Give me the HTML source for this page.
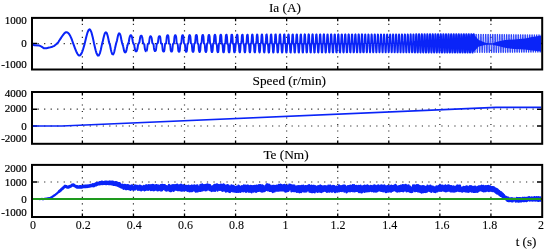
<!DOCTYPE html>
<html><head><meta charset="utf-8"><style>
html,body{margin:0;padding:0;background:#fff;}
body{width:544px;height:250px;overflow:hidden;}
svg{display:block;}
</style></head><body>
<svg width="544" height="250" viewBox="0 0 544 250">
<rect width="544" height="250" fill="#fff"/>
<clipPath id="c0"><rect x="33.0" y="18.9" width="508.2" height="49.6"/></clipPath>
<clipPath id="c1"><rect x="33.0" y="93.0" width="508.2" height="49.8"/></clipPath>
<clipPath id="c2"><rect x="33.0" y="165.9" width="508.2" height="50.1"/></clipPath>
<path d="M81.77 23.8h1.2v1.2h-1.2zM81.77 30.3h1.2v1.2h-1.2zM81.77 36.8h1.2v1.2h-1.2zM81.77 43.3h1.2v1.2h-1.2zM81.77 49.8h1.2v1.2h-1.2zM81.77 56.3h1.2v1.2h-1.2zM81.77 62.8h1.2v1.2h-1.2zM132.84 23.8h1.2v1.2h-1.2zM132.84 30.3h1.2v1.2h-1.2zM132.84 36.8h1.2v1.2h-1.2zM132.84 43.3h1.2v1.2h-1.2zM132.84 49.8h1.2v1.2h-1.2zM132.84 56.3h1.2v1.2h-1.2zM132.84 62.8h1.2v1.2h-1.2zM183.91 23.8h1.2v1.2h-1.2zM183.91 30.3h1.2v1.2h-1.2zM183.91 36.8h1.2v1.2h-1.2zM183.91 43.3h1.2v1.2h-1.2zM183.91 49.8h1.2v1.2h-1.2zM183.91 56.3h1.2v1.2h-1.2zM183.91 62.8h1.2v1.2h-1.2zM234.98 23.8h1.2v1.2h-1.2zM234.98 30.3h1.2v1.2h-1.2zM234.98 36.8h1.2v1.2h-1.2zM234.98 43.3h1.2v1.2h-1.2zM234.98 49.8h1.2v1.2h-1.2zM234.98 56.3h1.2v1.2h-1.2zM234.98 62.8h1.2v1.2h-1.2zM286.05 23.8h1.2v1.2h-1.2zM286.05 30.3h1.2v1.2h-1.2zM286.05 36.8h1.2v1.2h-1.2zM286.05 43.3h1.2v1.2h-1.2zM286.05 49.8h1.2v1.2h-1.2zM286.05 56.3h1.2v1.2h-1.2zM286.05 62.8h1.2v1.2h-1.2zM337.12 23.8h1.2v1.2h-1.2zM337.12 30.3h1.2v1.2h-1.2zM337.12 36.8h1.2v1.2h-1.2zM337.12 43.3h1.2v1.2h-1.2zM337.12 49.8h1.2v1.2h-1.2zM337.12 56.3h1.2v1.2h-1.2zM337.12 62.8h1.2v1.2h-1.2zM388.19 23.8h1.2v1.2h-1.2zM388.19 30.3h1.2v1.2h-1.2zM388.19 36.8h1.2v1.2h-1.2zM388.19 43.3h1.2v1.2h-1.2zM388.19 49.8h1.2v1.2h-1.2zM388.19 56.3h1.2v1.2h-1.2zM388.19 62.8h1.2v1.2h-1.2zM439.26 23.8h1.2v1.2h-1.2zM439.26 30.3h1.2v1.2h-1.2zM439.26 36.8h1.2v1.2h-1.2zM439.26 43.3h1.2v1.2h-1.2zM439.26 49.8h1.2v1.2h-1.2zM439.26 56.3h1.2v1.2h-1.2zM439.26 62.8h1.2v1.2h-1.2zM490.33 23.8h1.2v1.2h-1.2zM490.33 30.3h1.2v1.2h-1.2zM490.33 36.8h1.2v1.2h-1.2zM490.33 43.3h1.2v1.2h-1.2zM490.33 49.8h1.2v1.2h-1.2zM490.33 56.3h1.2v1.2h-1.2zM490.33 62.8h1.2v1.2h-1.2zM37.6 43h1.2v1.2h-1.2zM44.11 43h1.2v1.2h-1.2zM50.62 43h1.2v1.2h-1.2zM57.14 43h1.2v1.2h-1.2zM63.65 43h1.2v1.2h-1.2zM70.16 43h1.2v1.2h-1.2zM76.67 43h1.2v1.2h-1.2zM83.18 43h1.2v1.2h-1.2zM89.7 43h1.2v1.2h-1.2zM96.21 43h1.2v1.2h-1.2zM102.72 43h1.2v1.2h-1.2zM109.23 43h1.2v1.2h-1.2zM115.74 43h1.2v1.2h-1.2zM122.26 43h1.2v1.2h-1.2zM128.77 43h1.2v1.2h-1.2zM135.28 43h1.2v1.2h-1.2zM141.79 43h1.2v1.2h-1.2zM148.3 43h1.2v1.2h-1.2zM154.82 43h1.2v1.2h-1.2zM161.33 43h1.2v1.2h-1.2zM167.84 43h1.2v1.2h-1.2zM174.35 43h1.2v1.2h-1.2zM180.86 43h1.2v1.2h-1.2zM187.38 43h1.2v1.2h-1.2zM193.89 43h1.2v1.2h-1.2zM200.4 43h1.2v1.2h-1.2zM206.91 43h1.2v1.2h-1.2zM213.42 43h1.2v1.2h-1.2zM219.94 43h1.2v1.2h-1.2zM226.45 43h1.2v1.2h-1.2zM232.96 43h1.2v1.2h-1.2zM239.47 43h1.2v1.2h-1.2zM245.98 43h1.2v1.2h-1.2zM252.5 43h1.2v1.2h-1.2zM259.01 43h1.2v1.2h-1.2zM265.52 43h1.2v1.2h-1.2zM272.03 43h1.2v1.2h-1.2zM278.54 43h1.2v1.2h-1.2zM285.06 43h1.2v1.2h-1.2zM291.57 43h1.2v1.2h-1.2zM298.08 43h1.2v1.2h-1.2zM304.59 43h1.2v1.2h-1.2zM311.1 43h1.2v1.2h-1.2zM317.62 43h1.2v1.2h-1.2zM324.13 43h1.2v1.2h-1.2zM330.64 43h1.2v1.2h-1.2zM337.15 43h1.2v1.2h-1.2zM343.66 43h1.2v1.2h-1.2zM350.18 43h1.2v1.2h-1.2zM356.69 43h1.2v1.2h-1.2zM363.2 43h1.2v1.2h-1.2zM369.71 43h1.2v1.2h-1.2zM376.22 43h1.2v1.2h-1.2zM382.74 43h1.2v1.2h-1.2zM389.25 43h1.2v1.2h-1.2zM395.76 43h1.2v1.2h-1.2zM402.27 43h1.2v1.2h-1.2zM408.78 43h1.2v1.2h-1.2zM415.3 43h1.2v1.2h-1.2zM421.81 43h1.2v1.2h-1.2zM428.32 43h1.2v1.2h-1.2zM434.83 43h1.2v1.2h-1.2zM441.34 43h1.2v1.2h-1.2zM447.86 43h1.2v1.2h-1.2zM454.37 43h1.2v1.2h-1.2zM460.88 43h1.2v1.2h-1.2zM467.39 43h1.2v1.2h-1.2zM473.9 43h1.2v1.2h-1.2zM480.42 43h1.2v1.2h-1.2zM486.93 43h1.2v1.2h-1.2zM493.44 43h1.2v1.2h-1.2zM499.95 43h1.2v1.2h-1.2zM506.46 43h1.2v1.2h-1.2zM512.98 43h1.2v1.2h-1.2zM519.49 43h1.2v1.2h-1.2zM526 43h1.2v1.2h-1.2zM532.51 43h1.2v1.2h-1.2z" fill="#2a2a2a"/>
<path d="M81.77 97.9h1.2v1.2h-1.2zM81.77 104.4h1.2v1.2h-1.2zM81.77 110.9h1.2v1.2h-1.2zM81.77 117.4h1.2v1.2h-1.2zM81.77 123.9h1.2v1.2h-1.2zM81.77 130.4h1.2v1.2h-1.2zM81.77 136.9h1.2v1.2h-1.2zM132.84 97.9h1.2v1.2h-1.2zM132.84 104.4h1.2v1.2h-1.2zM132.84 110.9h1.2v1.2h-1.2zM132.84 117.4h1.2v1.2h-1.2zM132.84 123.9h1.2v1.2h-1.2zM132.84 130.4h1.2v1.2h-1.2zM132.84 136.9h1.2v1.2h-1.2zM183.91 97.9h1.2v1.2h-1.2zM183.91 104.4h1.2v1.2h-1.2zM183.91 110.9h1.2v1.2h-1.2zM183.91 117.4h1.2v1.2h-1.2zM183.91 123.9h1.2v1.2h-1.2zM183.91 130.4h1.2v1.2h-1.2zM183.91 136.9h1.2v1.2h-1.2zM234.98 97.9h1.2v1.2h-1.2zM234.98 104.4h1.2v1.2h-1.2zM234.98 110.9h1.2v1.2h-1.2zM234.98 117.4h1.2v1.2h-1.2zM234.98 123.9h1.2v1.2h-1.2zM234.98 130.4h1.2v1.2h-1.2zM234.98 136.9h1.2v1.2h-1.2zM286.05 97.9h1.2v1.2h-1.2zM286.05 104.4h1.2v1.2h-1.2zM286.05 110.9h1.2v1.2h-1.2zM286.05 117.4h1.2v1.2h-1.2zM286.05 123.9h1.2v1.2h-1.2zM286.05 130.4h1.2v1.2h-1.2zM286.05 136.9h1.2v1.2h-1.2zM337.12 97.9h1.2v1.2h-1.2zM337.12 104.4h1.2v1.2h-1.2zM337.12 110.9h1.2v1.2h-1.2zM337.12 117.4h1.2v1.2h-1.2zM337.12 123.9h1.2v1.2h-1.2zM337.12 130.4h1.2v1.2h-1.2zM337.12 136.9h1.2v1.2h-1.2zM388.19 97.9h1.2v1.2h-1.2zM388.19 104.4h1.2v1.2h-1.2zM388.19 110.9h1.2v1.2h-1.2zM388.19 117.4h1.2v1.2h-1.2zM388.19 123.9h1.2v1.2h-1.2zM388.19 130.4h1.2v1.2h-1.2zM388.19 136.9h1.2v1.2h-1.2zM439.26 97.9h1.2v1.2h-1.2zM439.26 104.4h1.2v1.2h-1.2zM439.26 110.9h1.2v1.2h-1.2zM439.26 117.4h1.2v1.2h-1.2zM439.26 123.9h1.2v1.2h-1.2zM439.26 130.4h1.2v1.2h-1.2zM439.26 136.9h1.2v1.2h-1.2zM490.33 97.9h1.2v1.2h-1.2zM490.33 104.4h1.2v1.2h-1.2zM490.33 110.9h1.2v1.2h-1.2zM490.33 117.4h1.2v1.2h-1.2zM490.33 123.9h1.2v1.2h-1.2zM490.33 130.4h1.2v1.2h-1.2zM490.33 136.9h1.2v1.2h-1.2zM37.6 125.4h1.2v1.2h-1.2zM44.11 125.4h1.2v1.2h-1.2zM50.62 125.4h1.2v1.2h-1.2zM57.14 125.4h1.2v1.2h-1.2zM63.65 125.4h1.2v1.2h-1.2zM70.16 125.4h1.2v1.2h-1.2zM76.67 125.4h1.2v1.2h-1.2zM83.18 125.4h1.2v1.2h-1.2zM89.7 125.4h1.2v1.2h-1.2zM96.21 125.4h1.2v1.2h-1.2zM102.72 125.4h1.2v1.2h-1.2zM109.23 125.4h1.2v1.2h-1.2zM115.74 125.4h1.2v1.2h-1.2zM122.26 125.4h1.2v1.2h-1.2zM128.77 125.4h1.2v1.2h-1.2zM135.28 125.4h1.2v1.2h-1.2zM141.79 125.4h1.2v1.2h-1.2zM148.3 125.4h1.2v1.2h-1.2zM154.82 125.4h1.2v1.2h-1.2zM161.33 125.4h1.2v1.2h-1.2zM167.84 125.4h1.2v1.2h-1.2zM174.35 125.4h1.2v1.2h-1.2zM180.86 125.4h1.2v1.2h-1.2zM187.38 125.4h1.2v1.2h-1.2zM193.89 125.4h1.2v1.2h-1.2zM200.4 125.4h1.2v1.2h-1.2zM206.91 125.4h1.2v1.2h-1.2zM213.42 125.4h1.2v1.2h-1.2zM219.94 125.4h1.2v1.2h-1.2zM226.45 125.4h1.2v1.2h-1.2zM232.96 125.4h1.2v1.2h-1.2zM239.47 125.4h1.2v1.2h-1.2zM245.98 125.4h1.2v1.2h-1.2zM252.5 125.4h1.2v1.2h-1.2zM259.01 125.4h1.2v1.2h-1.2zM265.52 125.4h1.2v1.2h-1.2zM272.03 125.4h1.2v1.2h-1.2zM278.54 125.4h1.2v1.2h-1.2zM285.06 125.4h1.2v1.2h-1.2zM291.57 125.4h1.2v1.2h-1.2zM298.08 125.4h1.2v1.2h-1.2zM304.59 125.4h1.2v1.2h-1.2zM311.1 125.4h1.2v1.2h-1.2zM317.62 125.4h1.2v1.2h-1.2zM324.13 125.4h1.2v1.2h-1.2zM330.64 125.4h1.2v1.2h-1.2zM337.15 125.4h1.2v1.2h-1.2zM343.66 125.4h1.2v1.2h-1.2zM350.18 125.4h1.2v1.2h-1.2zM356.69 125.4h1.2v1.2h-1.2zM363.2 125.4h1.2v1.2h-1.2zM369.71 125.4h1.2v1.2h-1.2zM376.22 125.4h1.2v1.2h-1.2zM382.74 125.4h1.2v1.2h-1.2zM389.25 125.4h1.2v1.2h-1.2zM395.76 125.4h1.2v1.2h-1.2zM402.27 125.4h1.2v1.2h-1.2zM408.78 125.4h1.2v1.2h-1.2zM415.3 125.4h1.2v1.2h-1.2zM421.81 125.4h1.2v1.2h-1.2zM428.32 125.4h1.2v1.2h-1.2zM434.83 125.4h1.2v1.2h-1.2zM441.34 125.4h1.2v1.2h-1.2zM447.86 125.4h1.2v1.2h-1.2zM454.37 125.4h1.2v1.2h-1.2zM460.88 125.4h1.2v1.2h-1.2zM467.39 125.4h1.2v1.2h-1.2zM473.9 125.4h1.2v1.2h-1.2zM480.42 125.4h1.2v1.2h-1.2zM486.93 125.4h1.2v1.2h-1.2zM493.44 125.4h1.2v1.2h-1.2zM499.95 125.4h1.2v1.2h-1.2zM506.46 125.4h1.2v1.2h-1.2zM512.98 125.4h1.2v1.2h-1.2zM519.49 125.4h1.2v1.2h-1.2zM526 125.4h1.2v1.2h-1.2zM532.51 125.4h1.2v1.2h-1.2zM37.6 108.6h1.2v1.2h-1.2zM44.11 108.6h1.2v1.2h-1.2zM50.62 108.6h1.2v1.2h-1.2zM57.14 108.6h1.2v1.2h-1.2zM63.65 108.6h1.2v1.2h-1.2zM70.16 108.6h1.2v1.2h-1.2zM76.67 108.6h1.2v1.2h-1.2zM83.18 108.6h1.2v1.2h-1.2zM89.7 108.6h1.2v1.2h-1.2zM96.21 108.6h1.2v1.2h-1.2zM102.72 108.6h1.2v1.2h-1.2zM109.23 108.6h1.2v1.2h-1.2zM115.74 108.6h1.2v1.2h-1.2zM122.26 108.6h1.2v1.2h-1.2zM128.77 108.6h1.2v1.2h-1.2zM135.28 108.6h1.2v1.2h-1.2zM141.79 108.6h1.2v1.2h-1.2zM148.3 108.6h1.2v1.2h-1.2zM154.82 108.6h1.2v1.2h-1.2zM161.33 108.6h1.2v1.2h-1.2zM167.84 108.6h1.2v1.2h-1.2zM174.35 108.6h1.2v1.2h-1.2zM180.86 108.6h1.2v1.2h-1.2zM187.38 108.6h1.2v1.2h-1.2zM193.89 108.6h1.2v1.2h-1.2zM200.4 108.6h1.2v1.2h-1.2zM206.91 108.6h1.2v1.2h-1.2zM213.42 108.6h1.2v1.2h-1.2zM219.94 108.6h1.2v1.2h-1.2zM226.45 108.6h1.2v1.2h-1.2zM232.96 108.6h1.2v1.2h-1.2zM239.47 108.6h1.2v1.2h-1.2zM245.98 108.6h1.2v1.2h-1.2zM252.5 108.6h1.2v1.2h-1.2zM259.01 108.6h1.2v1.2h-1.2zM265.52 108.6h1.2v1.2h-1.2zM272.03 108.6h1.2v1.2h-1.2zM278.54 108.6h1.2v1.2h-1.2zM285.06 108.6h1.2v1.2h-1.2zM291.57 108.6h1.2v1.2h-1.2zM298.08 108.6h1.2v1.2h-1.2zM304.59 108.6h1.2v1.2h-1.2zM311.1 108.6h1.2v1.2h-1.2zM317.62 108.6h1.2v1.2h-1.2zM324.13 108.6h1.2v1.2h-1.2zM330.64 108.6h1.2v1.2h-1.2zM337.15 108.6h1.2v1.2h-1.2zM343.66 108.6h1.2v1.2h-1.2zM350.18 108.6h1.2v1.2h-1.2zM356.69 108.6h1.2v1.2h-1.2zM363.2 108.6h1.2v1.2h-1.2zM369.71 108.6h1.2v1.2h-1.2zM376.22 108.6h1.2v1.2h-1.2zM382.74 108.6h1.2v1.2h-1.2zM389.25 108.6h1.2v1.2h-1.2zM395.76 108.6h1.2v1.2h-1.2zM402.27 108.6h1.2v1.2h-1.2zM408.78 108.6h1.2v1.2h-1.2zM415.3 108.6h1.2v1.2h-1.2zM421.81 108.6h1.2v1.2h-1.2zM428.32 108.6h1.2v1.2h-1.2zM434.83 108.6h1.2v1.2h-1.2zM441.34 108.6h1.2v1.2h-1.2zM447.86 108.6h1.2v1.2h-1.2zM454.37 108.6h1.2v1.2h-1.2zM460.88 108.6h1.2v1.2h-1.2zM467.39 108.6h1.2v1.2h-1.2zM473.9 108.6h1.2v1.2h-1.2zM480.42 108.6h1.2v1.2h-1.2zM486.93 108.6h1.2v1.2h-1.2zM493.44 108.6h1.2v1.2h-1.2zM499.95 108.6h1.2v1.2h-1.2zM506.46 108.6h1.2v1.2h-1.2zM512.98 108.6h1.2v1.2h-1.2zM519.49 108.6h1.2v1.2h-1.2zM526 108.6h1.2v1.2h-1.2zM532.51 108.6h1.2v1.2h-1.2z" fill="#2a2a2a"/>
<path d="M81.77 170.8h1.2v1.2h-1.2zM81.77 177.3h1.2v1.2h-1.2zM81.77 183.8h1.2v1.2h-1.2zM81.77 190.3h1.2v1.2h-1.2zM81.77 196.8h1.2v1.2h-1.2zM81.77 203.3h1.2v1.2h-1.2zM81.77 209.8h1.2v1.2h-1.2zM132.84 170.8h1.2v1.2h-1.2zM132.84 177.3h1.2v1.2h-1.2zM132.84 183.8h1.2v1.2h-1.2zM132.84 190.3h1.2v1.2h-1.2zM132.84 196.8h1.2v1.2h-1.2zM132.84 203.3h1.2v1.2h-1.2zM132.84 209.8h1.2v1.2h-1.2zM183.91 170.8h1.2v1.2h-1.2zM183.91 177.3h1.2v1.2h-1.2zM183.91 183.8h1.2v1.2h-1.2zM183.91 190.3h1.2v1.2h-1.2zM183.91 196.8h1.2v1.2h-1.2zM183.91 203.3h1.2v1.2h-1.2zM183.91 209.8h1.2v1.2h-1.2zM234.98 170.8h1.2v1.2h-1.2zM234.98 177.3h1.2v1.2h-1.2zM234.98 183.8h1.2v1.2h-1.2zM234.98 190.3h1.2v1.2h-1.2zM234.98 196.8h1.2v1.2h-1.2zM234.98 203.3h1.2v1.2h-1.2zM234.98 209.8h1.2v1.2h-1.2zM286.05 170.8h1.2v1.2h-1.2zM286.05 177.3h1.2v1.2h-1.2zM286.05 183.8h1.2v1.2h-1.2zM286.05 190.3h1.2v1.2h-1.2zM286.05 196.8h1.2v1.2h-1.2zM286.05 203.3h1.2v1.2h-1.2zM286.05 209.8h1.2v1.2h-1.2zM337.12 170.8h1.2v1.2h-1.2zM337.12 177.3h1.2v1.2h-1.2zM337.12 183.8h1.2v1.2h-1.2zM337.12 190.3h1.2v1.2h-1.2zM337.12 196.8h1.2v1.2h-1.2zM337.12 203.3h1.2v1.2h-1.2zM337.12 209.8h1.2v1.2h-1.2zM388.19 170.8h1.2v1.2h-1.2zM388.19 177.3h1.2v1.2h-1.2zM388.19 183.8h1.2v1.2h-1.2zM388.19 190.3h1.2v1.2h-1.2zM388.19 196.8h1.2v1.2h-1.2zM388.19 203.3h1.2v1.2h-1.2zM388.19 209.8h1.2v1.2h-1.2zM439.26 170.8h1.2v1.2h-1.2zM439.26 177.3h1.2v1.2h-1.2zM439.26 183.8h1.2v1.2h-1.2zM439.26 190.3h1.2v1.2h-1.2zM439.26 196.8h1.2v1.2h-1.2zM439.26 203.3h1.2v1.2h-1.2zM439.26 209.8h1.2v1.2h-1.2zM490.33 170.8h1.2v1.2h-1.2zM490.33 177.3h1.2v1.2h-1.2zM490.33 183.8h1.2v1.2h-1.2zM490.33 190.3h1.2v1.2h-1.2zM490.33 196.8h1.2v1.2h-1.2zM490.33 203.3h1.2v1.2h-1.2zM490.33 209.8h1.2v1.2h-1.2zM37.6 198.4h1.2v1.2h-1.2zM44.11 198.4h1.2v1.2h-1.2zM50.62 198.4h1.2v1.2h-1.2zM57.14 198.4h1.2v1.2h-1.2zM63.65 198.4h1.2v1.2h-1.2zM70.16 198.4h1.2v1.2h-1.2zM76.67 198.4h1.2v1.2h-1.2zM83.18 198.4h1.2v1.2h-1.2zM89.7 198.4h1.2v1.2h-1.2zM96.21 198.4h1.2v1.2h-1.2zM102.72 198.4h1.2v1.2h-1.2zM109.23 198.4h1.2v1.2h-1.2zM115.74 198.4h1.2v1.2h-1.2zM122.26 198.4h1.2v1.2h-1.2zM128.77 198.4h1.2v1.2h-1.2zM135.28 198.4h1.2v1.2h-1.2zM141.79 198.4h1.2v1.2h-1.2zM148.3 198.4h1.2v1.2h-1.2zM154.82 198.4h1.2v1.2h-1.2zM161.33 198.4h1.2v1.2h-1.2zM167.84 198.4h1.2v1.2h-1.2zM174.35 198.4h1.2v1.2h-1.2zM180.86 198.4h1.2v1.2h-1.2zM187.38 198.4h1.2v1.2h-1.2zM193.89 198.4h1.2v1.2h-1.2zM200.4 198.4h1.2v1.2h-1.2zM206.91 198.4h1.2v1.2h-1.2zM213.42 198.4h1.2v1.2h-1.2zM219.94 198.4h1.2v1.2h-1.2zM226.45 198.4h1.2v1.2h-1.2zM232.96 198.4h1.2v1.2h-1.2zM239.47 198.4h1.2v1.2h-1.2zM245.98 198.4h1.2v1.2h-1.2zM252.5 198.4h1.2v1.2h-1.2zM259.01 198.4h1.2v1.2h-1.2zM265.52 198.4h1.2v1.2h-1.2zM272.03 198.4h1.2v1.2h-1.2zM278.54 198.4h1.2v1.2h-1.2zM285.06 198.4h1.2v1.2h-1.2zM291.57 198.4h1.2v1.2h-1.2zM298.08 198.4h1.2v1.2h-1.2zM304.59 198.4h1.2v1.2h-1.2zM311.1 198.4h1.2v1.2h-1.2zM317.62 198.4h1.2v1.2h-1.2zM324.13 198.4h1.2v1.2h-1.2zM330.64 198.4h1.2v1.2h-1.2zM337.15 198.4h1.2v1.2h-1.2zM343.66 198.4h1.2v1.2h-1.2zM350.18 198.4h1.2v1.2h-1.2zM356.69 198.4h1.2v1.2h-1.2zM363.2 198.4h1.2v1.2h-1.2zM369.71 198.4h1.2v1.2h-1.2zM376.22 198.4h1.2v1.2h-1.2zM382.74 198.4h1.2v1.2h-1.2zM389.25 198.4h1.2v1.2h-1.2zM395.76 198.4h1.2v1.2h-1.2zM402.27 198.4h1.2v1.2h-1.2zM408.78 198.4h1.2v1.2h-1.2zM415.3 198.4h1.2v1.2h-1.2zM421.81 198.4h1.2v1.2h-1.2zM428.32 198.4h1.2v1.2h-1.2zM434.83 198.4h1.2v1.2h-1.2zM441.34 198.4h1.2v1.2h-1.2zM447.86 198.4h1.2v1.2h-1.2zM454.37 198.4h1.2v1.2h-1.2zM460.88 198.4h1.2v1.2h-1.2zM467.39 198.4h1.2v1.2h-1.2zM473.9 198.4h1.2v1.2h-1.2zM480.42 198.4h1.2v1.2h-1.2zM486.93 198.4h1.2v1.2h-1.2zM493.44 198.4h1.2v1.2h-1.2zM499.95 198.4h1.2v1.2h-1.2zM506.46 198.4h1.2v1.2h-1.2zM512.98 198.4h1.2v1.2h-1.2zM519.49 198.4h1.2v1.2h-1.2zM526 198.4h1.2v1.2h-1.2zM532.51 198.4h1.2v1.2h-1.2zM37.6 181.4h1.2v1.2h-1.2zM44.11 181.4h1.2v1.2h-1.2zM50.62 181.4h1.2v1.2h-1.2zM57.14 181.4h1.2v1.2h-1.2zM63.65 181.4h1.2v1.2h-1.2zM70.16 181.4h1.2v1.2h-1.2zM76.67 181.4h1.2v1.2h-1.2zM83.18 181.4h1.2v1.2h-1.2zM89.7 181.4h1.2v1.2h-1.2zM96.21 181.4h1.2v1.2h-1.2zM102.72 181.4h1.2v1.2h-1.2zM109.23 181.4h1.2v1.2h-1.2zM115.74 181.4h1.2v1.2h-1.2zM122.26 181.4h1.2v1.2h-1.2zM128.77 181.4h1.2v1.2h-1.2zM135.28 181.4h1.2v1.2h-1.2zM141.79 181.4h1.2v1.2h-1.2zM148.3 181.4h1.2v1.2h-1.2zM154.82 181.4h1.2v1.2h-1.2zM161.33 181.4h1.2v1.2h-1.2zM167.84 181.4h1.2v1.2h-1.2zM174.35 181.4h1.2v1.2h-1.2zM180.86 181.4h1.2v1.2h-1.2zM187.38 181.4h1.2v1.2h-1.2zM193.89 181.4h1.2v1.2h-1.2zM200.4 181.4h1.2v1.2h-1.2zM206.91 181.4h1.2v1.2h-1.2zM213.42 181.4h1.2v1.2h-1.2zM219.94 181.4h1.2v1.2h-1.2zM226.45 181.4h1.2v1.2h-1.2zM232.96 181.4h1.2v1.2h-1.2zM239.47 181.4h1.2v1.2h-1.2zM245.98 181.4h1.2v1.2h-1.2zM252.5 181.4h1.2v1.2h-1.2zM259.01 181.4h1.2v1.2h-1.2zM265.52 181.4h1.2v1.2h-1.2zM272.03 181.4h1.2v1.2h-1.2zM278.54 181.4h1.2v1.2h-1.2zM285.06 181.4h1.2v1.2h-1.2zM291.57 181.4h1.2v1.2h-1.2zM298.08 181.4h1.2v1.2h-1.2zM304.59 181.4h1.2v1.2h-1.2zM311.1 181.4h1.2v1.2h-1.2zM317.62 181.4h1.2v1.2h-1.2zM324.13 181.4h1.2v1.2h-1.2zM330.64 181.4h1.2v1.2h-1.2zM337.15 181.4h1.2v1.2h-1.2zM343.66 181.4h1.2v1.2h-1.2zM350.18 181.4h1.2v1.2h-1.2zM356.69 181.4h1.2v1.2h-1.2zM363.2 181.4h1.2v1.2h-1.2zM369.71 181.4h1.2v1.2h-1.2zM376.22 181.4h1.2v1.2h-1.2zM382.74 181.4h1.2v1.2h-1.2zM389.25 181.4h1.2v1.2h-1.2zM395.76 181.4h1.2v1.2h-1.2zM402.27 181.4h1.2v1.2h-1.2zM408.78 181.4h1.2v1.2h-1.2zM415.3 181.4h1.2v1.2h-1.2zM421.81 181.4h1.2v1.2h-1.2zM428.32 181.4h1.2v1.2h-1.2zM434.83 181.4h1.2v1.2h-1.2zM441.34 181.4h1.2v1.2h-1.2zM447.86 181.4h1.2v1.2h-1.2zM454.37 181.4h1.2v1.2h-1.2zM460.88 181.4h1.2v1.2h-1.2zM467.39 181.4h1.2v1.2h-1.2zM473.9 181.4h1.2v1.2h-1.2zM480.42 181.4h1.2v1.2h-1.2zM486.93 181.4h1.2v1.2h-1.2zM493.44 181.4h1.2v1.2h-1.2zM499.95 181.4h1.2v1.2h-1.2zM506.46 181.4h1.2v1.2h-1.2zM512.98 181.4h1.2v1.2h-1.2zM519.49 181.4h1.2v1.2h-1.2zM526 181.4h1.2v1.2h-1.2zM532.51 181.4h1.2v1.2h-1.2z" fill="#2a2a2a"/>
<path d="M82.37 17.9V21.3M82.37 69.5V66.1M133.44 17.9V21.3M133.44 69.5V66.1M184.51 17.9V21.3M184.51 69.5V66.1M235.58 17.9V21.3M235.58 69.5V66.1M286.65 17.9V21.3M286.65 69.5V66.1M337.72 17.9V21.3M337.72 69.5V66.1M388.79 17.9V21.3M388.79 69.5V66.1M439.86 17.9V21.3M439.86 69.5V66.1M490.93 17.9V21.3M490.93 69.5V66.1" stroke="#000" stroke-width="1.3" fill="none"/>
<path d="M32.0 43.6H37.2M542.2 43.6H537" stroke="#000" stroke-width="1.5" fill="none"/>
<path d="M82.37 92.0V95.4M82.37 143.8V140.4M133.44 92.0V95.4M133.44 143.8V140.4M184.51 92.0V95.4M184.51 143.8V140.4M235.58 92.0V95.4M235.58 143.8V140.4M286.65 92.0V95.4M286.65 143.8V140.4M337.72 92.0V95.4M337.72 143.8V140.4M388.79 92.0V95.4M388.79 143.8V140.4M439.86 92.0V95.4M439.86 143.8V140.4M490.93 92.0V95.4M490.93 143.8V140.4" stroke="#000" stroke-width="1.3" fill="none"/>
<path d="M32.0 126H37.2M542.2 126H537M32.0 109.2H37.2M542.2 109.2H537" stroke="#000" stroke-width="1.5" fill="none"/>
<path d="M82.37 164.9V168.3M82.37 217.0V213.6M133.44 164.9V168.3M133.44 217.0V213.6M184.51 164.9V168.3M184.51 217.0V213.6M235.58 164.9V168.3M235.58 217.0V213.6M286.65 164.9V168.3M286.65 217.0V213.6M337.72 164.9V168.3M337.72 217.0V213.6M388.79 164.9V168.3M388.79 217.0V213.6M439.86 164.9V168.3M439.86 217.0V213.6M490.93 164.9V168.3M490.93 217.0V213.6" stroke="#000" stroke-width="1.3" fill="none"/>
<path d="M32.0 199H37.2M542.2 199H537M32.0 182H37.2M542.2 182H537" stroke="#000" stroke-width="1.5" fill="none"/>
<g clip-path="url(#c0)">
<polyline points="31.6,43.4 33,44.6 34.5,45.3 39,45.4 41.5,46.6 44.1,48.3 46.5,48.2 49.2,47.6 52.4,46.7 54.4,45.8 56.5,44 58.4,42.1 58.88,41.16 59.67,39.99 59.9,39.65 60.92,38.09 61.94,36.53 62.32,35.97 62.96,35.06 63.98,33.77 64.76,32.97 65.01,32.75 66.03,32.28 67.02,32.32 67.05,32.33 68.07,32.89 69.09,34 69.15,34.09 70.11,35.67 71.13,37.85 71.17,37.93 72.16,40.47 73.08,43.13 73.18,43.41 74.2,46.13 74.91,48.04 75.22,48.84 76.24,51.36 76.67,52.32 77.26,53.48 78.28,54.99 78.36,55.07 79.31,55.6 79.99,55.4 80.33,55.14 81.35,53.69 81.57,53.26 82.37,51.34 83.1,49.2 83.39,48.24 84.41,44.63 84.58,44.02 85.43,40.41 86.02,37.95 86.46,36.23 87.43,32.84 87.48,32.7 88.5,30.26 88.8,29.81 89.52,29.35 90.14,29.71 90.54,30.28 91.45,32.45 91.56,32.81 92.58,36.65 92.73,37.27 93.61,41.35 93.98,43.18 94.63,46.06 95.21,48.53 95.65,50.25 96.42,52.85 96.67,53.57 97.6,55.39 97.69,55.49 98.71,55.56 98.76,55.51 99.73,53.63 99.91,53.12 100.76,49.95 101.03,48.74 101.78,45.11 102.14,43.6 102.8,41.34 103.22,39.3 103.82,36.72 104.3,34.97 104.84,33.45 105.35,32.56 105.86,32.26 106.4,32.57 106.88,33.41 107.42,34.96 107.9,36.82 108.44,39.28 108.93,41.84 109.44,43.6 109.95,44.71 110.42,47.26 110.97,49.94 111.4,51.71 111.99,53.49 112.36,54.15 113.01,54.42 113.32,54.15 114.03,52.57 114.26,51.81 115.05,48.14 115.19,47.41 116.08,43.6 116.11,43.6 117.02,40.4 117.1,39.94 117.92,35.89 118.12,35.16 118.81,33.59 119.14,33.33 119.69,33.6 120.16,34.5 120.57,35.8 121.18,38.79 121.43,40.29 122.2,43.6 122.29,43.6 123.14,46.12 123.23,46.66 123.98,50.33 124.25,51.19 124.81,52.21 125.27,52.39 125.64,52.18 126.29,50.89 126.45,50.34 127.27,46.16 127.31,45.86 128.07,43.6 128.33,43.6 128.87,41.49 129.35,38.53 129.66,37.13 130.38,35.4 130.44,35.33 131.22,35.37 131.4,35.57 132,37.11 132.42,39.19 132.76,41.49 133.44,43.6 133.53,43.6 134.28,45.2 134.46,46.46 135.03,49.59 135.48,50.9 135.78,51.28 136.5,51.28 136.51,51.27 137.25,49.66 137.53,48.31 137.98,45.19 138.55,43.6 138.7,43.6 139.42,42.36 139.57,41.17 140.14,37.54 140.59,36.13 140.84,35.81 141.55,35.82 141.61,35.87 142.25,37.5 142.63,39.84 142.95,42.46 143.64,43.6 143.65,43.6 144.33,44.39 144.68,47.36 145.01,49.49 145.69,51.21 145.7,51.21 146.36,51.22" fill="none" stroke="#0a24f8" stroke-width="2.0" stroke-linejoin="round" />
<polyline points="146.36,51.22 146.72,50.73 147.04,49.58 147.7,44.38 147.74,44.02 148.37,43.6 148.76,43.6 149.03,42.96 149.68,37.83 149.78,37.37 150.33,36.31 150.8,36.29 150.98,36.35 151.63,37.79 151.83,38.96 152.27,42.88 152.85,43.6 152.91,43.6 153.54,44.31 153.87,47.44 154.18,49.58 154.81,50.99 154.89,51 155.43,51 155.91,50.28 156.05,49.66 156.67,44.32 156.93,43.6 157.29,43.6 157.9,42.84 157.95,42.27 158.51,37.56 158.97,36.35 159.12,36.29 159.72,36.21 160,36.38 160.32,37.46 160.92,42.91 161.02,43.6 161.52,43.6 162.04,43.6 162.11,44.47 162.7,50.13 163.06,51.33 163.29,51.49 163.88,51.5 164.08,51.37 164.46,50.09 165.04,44.28 165.1,43.6 165.62,43.6 166.12,43.52 166.19,42.64 166.76,36.73 167.15,35.42 167.33,35.3 167.9,35.3 168.17,35.55 168.47,36.81 169.03,42.94 169.19,43.6 169.59,43.6 170.15,44.59 170.21,45.38 170.71,50.29 171.23,51.59 171.26,51.6 171.81,51.6 172.25,50.73 172.36,50.12 172.91,44.19 173.27,43.6 173.46,43.6 174,42.51 174.3,38.68 174.54,36.57 175.08,35.22 175.32,35.23 175.62,35.22 176.15,36.8 176.34,38.48 176.68,43.04 177.22,43.6 177.36,43.6 177.75,44.7 178.27,50.41 178.38,50.99 178.8,51.69 179.32,51.69 179.4,51.66 179.84,50.14 180.36,44.1 180.42,43.6 180.88,43.6 181.4,42.4 181.45,41.69 181.91,36.46 182.43,35.15 182.47,35.14 182.94,35.15 183.45,36.79 183.49,37.14 183.95,43.14 184.46,43.6 184.51,43.6 184.96,44.81 185.47,50.53 185.53,50.91 185.97,51.78 186.47,51.78 186.55,51.73 186.97,50.16 187.46,44 187.57,43.6 187.96,43.6 188.45,42.28 188.6,40.06 188.94,36.35 189.43,35.07 189.62,35.08 189.92,35.08 190.41,36.79 190.64,39.36 190.89,43.24 191.38,43.6 191.66,43.6 191.86,44.93 192.34,50.65 192.68,51.81 192.82,51.87 193.3,51.86 193.7,50.71 193.77,50.18 194.25,43.9 194.72,43.6 194.72,43.6 195.2,42.17 195.67,36.25 195.75,35.76 196.14,35 196.61,35.01 196.77,35.19 197.07,36.79 197.54,43.34 197.79,43.6 198,43.6 198.47,45.04 198.81,49.76 198.93,50.76 199.39,51.95 199.83,51.95 199.85,51.94 200.31,50.19 200.76,43.8 200.85,43.6 201.22,43.6 201.67,42.05 201.87,38.86 202.13,36.14 202.58,34.94 202.9,34.94 203.03,34.95 203.48,36.79 203.92,43.23 203.93,43.45 204.38,43.6 204.82,45.16 204.94,47.06 205.27,50.87 205.71,52.03 205.96,52.02 206.15,52.02 206.6,50.2 206.98,44.68 207.04,43.7 207.48,43.6 207.91,41.93 208,40.39 208.35,36.05 208.79,34.87 209.02,34.88 209.22,34.89 209.66,36.8 210.05,42.71 210.09,43.56 210.52,43.6 210.95,45.27 211.07,47.22 211.38,50.98 211.81,52.1 212.09,52.1 212.24,52.09 212.67,50.2 213.09,43.6 213.11,43.6 213.52,43.6 213.94,41.82 214.13,38.57 214.36,35.95 214.79,34.81 215.15,34.81 215.21,34.83 215.63,36.81 216.05,43.6 216.17,43.6 216.46,43.6 216.88,45.39 217.19,50.17 217.3,51.09 217.71,52.18 218.13,52.16 218.22,52.06 218.54,50.2 218.95,43.6 219.24,43.6 219.36,43.6 219.77,41.7 220.18,35.86 220.26,35.37 220.59,34.75 221,34.77 221.28,35.68 221.41,36.83 221.81,43.6 222.22,43.6 222.3,43.6 222.62,45.51 223.03,51.19 223.32,52.22 223.43,52.25 223.83,52.23 224.23,50.19 224.34,48.71 224.63,43.6 225.03,43.6 225.37,42.91 225.43,41.58 225.83,35.76 226.23,34.7 226.39,34.71 226.62,34.72 227.02,36.85 227.41,43.6 227.41,43.6 227.81,43.6 228.2,45.63 228.43,49.6 228.59,51.29 228.98,52.32 229.37,52.29 229.45,52.19 229.76,50.18 230.15,43.6 230.47,43.6 230.54,43.6 230.93,41.46 231.31,35.67 231.49,34.81 231.7,34.64 232.09,34.67 232.47,36.87 232.52,37.47 232.85,43.6 233.24,43.6 233.54,44.01 233.62,45.75 234,51.39 234.38,52.38 234.56,52.38 234.76,52.36 235.14,50.17 235.52,43.6 235.58,43.6 235.9,43.6" fill="none" stroke="#0a24f8" stroke-width="1.9" stroke-linejoin="round" />
<polyline points="235.14,50.17 235.52,43.6 235.58,43.6 235.9,43.6 236.28,41.34 236.6,36.05 236.65,35.59 237.03,34.59 237.41,34.63 237.62,35.36 237.78,36.9 238.15,43.6 238.53,43.6 238.64,43.6 238.9,45.87 239.27,51.46 239.64,52.41 239.67,52.41 240.01,52.38 240.38,50.12 240.69,44.5 240.75,43.6 241.12,43.6 241.49,41.22 241.71,37.17 241.86,35.52 242.22,34.56 242.59,34.6 242.73,34.95 242.96,36.94 243.32,43.6 243.68,43.6 243.75,43.6 244.05,45.98 244.41,51.52 244.77,52.43 244.77,52.43 245.13,52.39 245.5,50.07 245.79,44.35 245.86,43.6 246.22,43.6 246.58,41.11 246.82,36.71 246.93,35.46 247.29,34.53 247.65,34.58 247.84,35.23 248.01,36.99 248.36,43.6 248.72,43.6 248.86,43.6 249.07,46.09 249.43,51.57 249.78,52.45 249.88,52.44 250.14,52.41 250.49,50.02 250.84,43.6 250.9,43.6 251.19,43.6 251.54,40.99 251.89,35.39 251.92,35.19 252.24,34.5 252.59,34.55 252.94,37.04 252.94,37.06 253.29,43.6 253.64,43.6 253.97,45.72 253.99,46.2 254.33,51.62 254.68,52.47 254.99,52.46 255.02,52.42 255.37,49.96 255.71,43.6 256.01,43.6 256.06,43.6 256.4,40.88 256.74,35.33 257.03,34.47 257.09,34.48 257.43,34.53 257.77,37.09 258.05,43.06 258.11,43.6 258.45,43.6 258.79,46.31 259.07,51.14 259.13,51.68 259.47,52.49 259.81,52.43 260.09,50.66 260.15,49.91 260.48,43.6 260.82,43.6 261.12,41.78 261.16,40.76 261.49,35.27 261.83,34.45 262.14,34.48 262.16,34.51 262.5,37.14 262.83,43.6 263.16,43.6 263.17,43.6 263.5,46.42 263.83,51.73 264.16,52.51 264.18,52.51 264.49,52.45 264.83,49.85 265.16,43.6 265.2,43.6 265.49,43.6 265.82,40.64 266.15,35.21 266.22,34.75 266.47,34.42 266.8,34.49 267.13,37.2 267.24,39.43 267.46,43.6 267.78,43.6 268.11,46.53 268.26,49.69 268.44,51.78 268.76,52.53 269.09,52.46 269.29,51.44 269.41,49.79 269.74,43.6 270.06,43.6 270.31,42.47 270.38,40.53 270.71,35.15 271.03,34.4 271.33,34.44 271.35,34.47 271.67,37.25 271.99,43.6 272.31,43.6 272.35,43.6 272.64,46.64 272.95,51.83 273.27,52.54 273.37,52.54 273.59,52.47 273.91,49.73 274.23,43.6 274.39,43.6 274.55,43.6 274.87,40.41 275.18,35.1 275.41,34.37 275.5,34.37 275.82,34.45 276.13,37.31 276.44,43.6 276.45,43.6 276.76,43.6 277.08,46.74 277.39,51.87 277.46,52.26 277.7,52.56 278.02,52.48 278.33,49.67 278.48,46.44 278.64,43.6 278.95,43.6 279.27,40.3 279.5,35.8 279.58,35.04 279.89,34.35 280.2,34.44 280.51,37.37 280.52,37.6 280.82,43.6 281.13,43.6 281.44,46.85 281.54,49.21 281.75,51.92 282.05,52.58 282.36,52.48 282.56,51.2 282.67,49.61 282.98,43.6 283.28,43.6 283.59,40.29 283.59,40.19 283.9,34.98 284.2,34.32 284.51,34.42 284.61,34.84 284.81,37.43 285.12,43.6 285.42,43.6 285.63,44.43 285.72,46.96 286.03,51.96 286.33,52.59 286.63,52.49 286.65,52.45 286.94,49.54 287.24,43.6 287.54,43.6 287.67,43.6 287.84,40.07 288.14,34.94 288.44,34.31 288.69,34.33 288.74,34.42 289.04,37.5 289.34,43.6 289.64,43.6 289.71,43.6 289.94,47.06 290.24,51.99 290.54,52.59 290.74,52.59 290.83,52.47 291.13,49.46 291.43,43.6 291.73,43.6 291.76,43.6 292.02,39.97 292.32,34.91 292.61,34.31 292.78,34.3 292.91,34.43 293.2,37.58 293.5,43.6 293.79,43.6 293.8,43.6 294.09,47.16 294.38,52.01 294.67,52.58 294.82,52.58 294.97,52.46 295.26,49.37 295.55,43.6 295.84,43.6 295.85,43.6 296.14,39.87 296.43,34.88 296.72,34.31 296.86,34.3 297.01,34.44 297.3,37.66 297.59,43.6 297.88,43.6 297.89,43.6 298.17,47.25 298.46,52.03 298.75,52.57 298.91,52.58 299.04,52.44 299.33,49.29 299.61,43.6 299.9,43.6 299.93,43.6 300.19,39.76 300.48,34.85 300.76,34.31 300.95,34.3 301.05,34.45 301.34,37.75 301.62,43.6 301.91,43.6 301.97,43.6 302.19,47.35 302.48,52.05 302.76,52.56 302.99,52.53 303.05,52.42 303.33,49.2 303.61,43.6 303.9,43.6 304.01,43.6 304.18,39.66 304.46,34.83 304.75,34.31 305.03,34.46 305.04,34.48 305.31,37.83 305.59,43.6 305.87,43.6 306.06,44.7 306.15,47.45 306.44,52.07 306.72,52.55 307,52.4 307.08,51.98 307.28,49.12 307.56,43.6 307.84,43.6 308.1,39.98 308.11,39.56 308.39,34.8 308.67,34.31 308.95,34.47 309.12,35.9 309.23,37.92 309.51,43.6 309.78,43.6 310.06,47.54 310.14,49.46 310.34,52.08 310.61,52.54 310.89,52.38 311.16,49.1 311.17,49.03 311.44,43.6 311.72,43.6 311.99,39.46 312.19,35.57 312.27,34.77 312.54,34.31 312.82,34.48 313.09,38 313.21,41.11 313.37,43.6 313.64,43.6 313.91,47.63 314.19,52.1 314.23,52.32 314.46,52.54 314.73,52.36 315,48.94 315.25,43.6 315.28,43.6 315.55,43.6 315.82,39.36 316.09,34.75 316.27,34.3 316.36,34.31 316.63,34.5 316.9,38.09 317.17,43.6 317.29,43.6 317.44,43.6 317.71,47.72 317.98,52.12 318.25,52.53 318.31,52.53 318.52,52.34 318.79,48.86 319.06,43.6 319.33,43.6 319.33,43.6 319.59,39.26 319.86,34.73 320.13,34.31 320.36,34.39 320.4,34.51 320.66,38.18 320.93,43.6 321.2,43.6 321.38,45.37 321.46,47.82 321.73,52.13 321.99,52.52 322.26,52.32 322.4,51.15 322.53,48.77 322.79,43.6 323.06,43.6 323.32,39.16 323.42,36.77 323.58,34.7 323.85,34.31 324.11,34.53 324.38,38.26 324.44,40.08 324.64,43.6 324.9,43.6 325.17,47.91 325.43,52.15 325.46,52.32 325.69,52.51 325.95,52.3 326.21,48.68 326.48,43.6 326.48,43.6 326.74,43.6 327,39.06 327.26,34.68 327.51,34.31 327.52,34.31 327.78,34.54 328.04,38.35 328.3,43.6 328.53,43.6 328.56,43.6 328.82,48 329.08,52.16 329.34,52.51 329.55,52.44 329.6,52.28 329.86,48.59 330.12,43.6 330.37,43.6 330.57,40.83 330.63,38.97 330.89,34.66 331.15,34.31 331.41,34.56 331.59,36.78 331.66,38.44 331.92,43.6 332.18,43.6 332.43,48.08 332.61,51.54 332.69,52.17 332.95,52.5 333.2,52.25 333.46,48.5 333.63,43.6 333.71,43.6 333.97,43.6 334.22,38.87 334.48,34.64 334.66,34.3 334.73,34.31 334.99,34.58 335.24,38.54 335.49,43.6 335.68,43.6 335.75,43.6 336,48.17 336.25,52.19 336.51,52.49 336.7,52.44 336.76,52.23 337.01,48.4 337.27,43.6 337.52,43.6 337.72,40.28 337.77,38.78 338.02,34.62 338.27,34.31 338.53,34.59 338.74,37.71 338.78,38.63 339.03,43.6 339.28,43.6 339.53,48.26 339.76,52.1 339.78,52.2 340.03,52.48 340.28,52.21 340.53,48.31 340.78,43.6 340.78,43.6 341.03,43.6 341.28,38.68 341.53,34.6 341.78,34.31 341.81,34.31 342.02,34.61 342.27,38.72 342.52,43.6 342.77,43.6 342.83,43.6 343.02,48.34 343.26,52.21 343.51,52.48 343.76,52.18 343.85,51.38 344.01,48.22 344.25,43.6 344.5,43.6 344.75,38.59 344.87,35.84 344.99,34.59 345.24,34.31 345.48,34.63 345.73,38.82 345.89,43.6 345.97,43.6 346.22,43.6 346.47,48.43 346.71,52.22 346.91,52.47 346.95,52.47 347.2,52.16 347.44,48.12 347.69,43.6 347.93,43.6 347.93,43.6 348.18,38.5 348.42,34.57 348.66,34.31 348.91,34.65 348.96,35.06 349.15,38.91 349.39,43.6 349.63,43.6 349.88,48.51 349.98,50.73 350.12,52.23 350.36,52.46 350.6,52.13 350.84,48.03 351,43.6 351.09,43.6 351.33,43.6 351.57,38.41 351.81,34.55 352.02,34.31 352.05,34.31 352.29,34.67 352.53,39.01 352.77,43.6 353.01,43.6 353.04,43.6 353.25,48.6 353.49,52.24 353.73,52.46 353.97,52.1 354.06,51.16 354.21,47.93 354.45,43.6 354.69,43.6 354.93,38.32 355.08,35.18 355.16,34.54 355.4,34.31 355.64,34.69 355.88,39.1 356.11,43.6 356.12,43.6 356.35,43.6 356.59,48.68 356.83,52.25 357.07,52.45 357.13,52.46 357.3,52.08 357.54,47.84 357.78,43.6 358.01,43.6 358.15,41.46 358.25,38.23 358.48,34.52 358.72,34.31 358.96,34.71 359.17,38.53 359.19,39.2 359.43,43.6 359.66,43.6 359.9,48.76 360.13,52.25 360.19,52.42 360.37,52.45 360.6,52.05 360.84,47.74 361.07,43.6 361.21,43.6 361.3,43.6 361.54,38.14 361.77,34.51 362.01,34.31 362.23,34.7 362.24,34.74 362.47,39.3 362.7,43.6 362.94,43.6 363.17,48.84 363.25,50.72 363.4,52.26 363.64,52.44" fill="none" stroke="#0a24f8" stroke-width="1.8" stroke-linejoin="round" />
<polyline points="362.94,43.6 363.17,48.84 363.25,50.72 363.4,52.26 363.64,52.44 363.87,52.02 364.1,47.64 364.28,43.6 364.33,43.6 364.56,43.6 364.79,38.05 365.03,34.49 365.26,34.31 365.3,34.3 365.49,34.76 365.72,39.4 365.95,43.6 366.18,43.6 366.32,46.1 366.41,48.92 366.64,52.27 366.87,52.43 367.1,51.99 367.33,47.55 367.34,47.26 367.56,43.6 367.79,43.6 368.02,37.97 368.25,34.48 368.36,34.3 368.48,34.31 368.71,34.79 368.94,39.5 369.16,43.6 369.38,43.6 369.39,43.6 369.62,48.99 369.85,52.27 370.08,52.43 370.31,51.96 370.4,50.68 370.53,47.45 370.76,43.6 370.99,43.6 371.21,37.88 371.43,34.54 371.44,34.47 371.67,34.31 371.9,34.81 372.12,39.6 372.35,43.6 372.45,43.6 372.57,43.6 372.8,49.07 373.03,52.28 373.25,52.42 373.47,52.01 373.48,51.93 373.7,47.35 373.93,43.6 374.15,43.6 374.38,37.8 374.49,35.45 374.6,34.45 374.83,34.31 375.05,34.84 375.28,39.7 375.5,43.6 375.51,43.6 375.73,43.6 375.95,49.15 376.17,52.28 376.4,52.42 376.53,52.36 376.62,51.9 376.85,47.25 377.07,43.6 377.29,43.6 377.52,37.71 377.55,36.72 377.74,34.44 377.96,34.31 378.18,34.86 378.41,39.8 378.58,43.6 378.63,43.6 378.85,43.6 379.07,49.22 379.29,52.29 379.52,52.41 379.6,52.41 379.74,51.87 379.96,47.15 380.18,43.6 380.4,43.6 380.62,37.75 380.62,37.63 380.84,34.43 381.06,34.31 381.29,34.89 381.51,39.91 381.64,43.6 381.73,43.6 381.95,43.6 382.17,49.3 382.39,52.29 382.61,52.4 382.66,52.41 382.83,51.84 383.05,47.05 383.26,43.6 383.48,43.6 383.68,38.13 383.7,37.55 383.92,34.42 384.14,34.31 384.36,34.92 384.58,40.01 384.7,43.6 384.8,43.6 385.02,43.6 385.23,49.37 385.45,52.3 385.67,52.4 385.73,52.41 385.89,51.8 386.1,46.95 386.32,43.6 386.54,43.6 386.75,37.74 386.76,37.47 386.97,34.41 387.19,34.31 387.41,34.95 387.62,40.12 387.77,43.6 387.84,43.6 388.06,43.6 388.27,49.44 388.49,52.3 388.71,52.39 388.79,52.38 388.92,51.77 389.14,46.85 389.35,43.6 389.57,43.6 389.78,37.39 389.81,36.7 390,34.4 390.21,34.3 390.43,34.98 390.64,40.22 390.83,43.6 390.86,43.6 391.07,43.6 391.29,49.52 391.5,52.31 391.72,52.4 391.85,52.27 391.93,51.75 392.15,46.75 392.36,43.6 392.57,43.6 392.79,37.31 392.88,35.42 393,34.38 393.21,34.29 393.43,35 393.64,40.32 393.85,43.6 393.9,43.6 394.07,43.6 394.28,49.6 394.49,52.33 394.7,52.41 394.92,51.72 394.92,51.69 395.13,46.65 395.34,43.6 395.55,43.6 395.76,37.22 395.94,34.51 395.98,34.37 396.19,34.29 396.4,35.03 396.61,40.43 396.82,43.6 396.96,43.6 397.03,43.6 397.24,49.67 397.45,52.34 397.66,52.42 397.88,51.7 397.98,49.76 398.09,46.55 398.3,43.6 398.51,43.6 398.72,37.14 398.93,34.35 399,34.27 399.14,34.28 399.35,35.06 399.56,40.53 399.77,43.6 399.97,43.6 400.03,44.4 400.18,49.75 400.39,52.36 400.6,52.43 400.81,51.67 401.02,46.45 401.05,45.46 401.23,43.6 401.44,43.6 401.65,37.06 401.85,34.34 402.06,34.27 402.07,34.27 402.27,35.08 402.48,40.64 402.69,43.6 402.89,43.6 403.09,49.5 403.1,49.83 403.31,52.37 403.52,52.44 403.72,51.65 403.93,46.35 404.11,43.6 404.14,43.6 404.35,43.6 404.55,36.98 404.76,34.32 404.97,34.26 405.13,34.69 405.17,35.11 405.38,40.74 405.59,43.6 405.79,43.6 406,49.9 406.15,52.2 406.2,52.39 406.41,52.44 406.61,51.62 406.82,46.25 407.03,43.6 407.18,43.6 407.23,43.6 407.44,36.9 407.64,34.31 407.85,34.25 408.05,35.14 408.2,38.62 408.26,40.85 408.46,43.6 408.67,43.6 408.87,49.98 409.07,52.4 409.22,52.44 409.28,52.45 409.48,51.59 409.69,46.15 409.89,43.6 410.09,43.6 410.24,38.62 410.3,36.83 410.5,34.3 410.71,34.24 410.91,35.17 411.11,40.96 411.26,43.6 411.32,43.6 411.52,43.6 411.72,50.05 411.92,52.41 412.13,52.46 412.28,52.07 412.33,51.56 412.53,46.05 412.73,43.6 412.94,43.6 413.14,36.75 413.3,34.4 413.34,34.28 413.54,34.24 413.75,35.21 413.95,41.07 414.15,43.6 414.32,43.6 414.35,43.6 414.55,50.12 414.75,52.43" fill="none" stroke="#0a24f8" stroke-width="1.7" stroke-linejoin="round" />
<polyline points="413.95,41.07 414.15,43.6 414.32,43.6 414.35,43.6 414.55,50.12 414.75,52.43 414.95,52.47 415.16,51.53 415.35,46.32 415.36,45.94 415.56,43.6 415.76,43.6 415.96,36.67 416.16,34.27 416.36,34.23 416.37,34.23 416.56,35.24 416.76,41.18 416.96,43.6 417.16,43.6 417.36,50.19 417.39,50.83 417.56,52.44 417.76,52.47 417.96,51.5 418.16,45.84 418.36,43.6 418.41,43.6 418.56,43.6 418.76,36.6 418.96,34.26 419.16,34.22 419.35,35.27 419.43,36.94 419.55,41.29 419.75,43.6 419.95,43.6 420.15,50.26 420.35,52.45 420.45,52.47 420.55,52.48 420.74,51.47 420.94,45.74 421.14,43.6 421.34,43.6 421.47,38.38 421.54,36.53 421.73,34.25 421.93,34.21 422.13,35.31 422.33,41.4 422.5,43.6 422.52,43.6 422.72,43.6 422.92,50.33 423.12,52.46 423.31,52.49 423.51,51.43 423.52,51.3 423.71,45.63 423.9,43.6 424.1,43.6 424.3,36.46 424.49,34.24 424.54,34.21 424.69,34.21 424.88,35.35 425.08,41.51 425.28,43.6 425.47,43.6 425.56,47.02 425.67,50.4 425.86,52.47 426.06,52.5 426.25,51.4 426.45,45.53 426.58,43.6 426.65,43.6 426.84,43.6 427.04,36.38 427.23,34.22 427.43,34.2 427.6,35.11 427.62,35.38 427.81,41.62 428.01,43.6 428.2,43.6 428.4,50.47 428.59,52.48 428.62,52.5 428.79,52.5 428.98,51.36 429.18,45.42 429.37,43.6 429.56,43.6 429.65,39.99 429.76,36.31 429.95,34.21 430.14,34.19 430.34,35.42 430.53,41.73 430.67,43.6 430.72,43.6 430.92,43.63 431.11,50.53 431.3,52.49 431.5,52.51 431.69,51.32 431.69,51.32 431.88,45.31 432.07,43.6 432.27,43.5 432.46,36.25 432.65,34.2 432.71,34.19 432.84,34.19 433.04,35.46 433.23,41.85 433.42,43.6 433.61,43.75 433.73,48.53 433.8,50.6 434,52.5 434.19,52.52 434.38,51.29 434.57,45.21 434.75,43.6 434.76,43.6 434.95,43.39 435.14,36.18 435.33,34.19 435.53,34.18 435.72,35.5 435.77,36.88 435.91,41.96 436.1,43.6 436.29,43.86 436.48,50.66 436.67,52.51 436.8,52.52 436.86,52.53 437.05,51.25 437.24,45.1 437.43,43.6 437.62,43.27 437.81,36.11 437.82,35.95 438,34.18 438.19,34.17 438.38,35.55 438.57,42.08 438.76,43.6 438.84,43.6 438.95,43.97 439.14,50.72 439.33,52.52 439.52,52.53 439.7,51.2 439.86,46.4 439.89,44.99 440.08,43.6 440.27,43.15 440.46,36.05 440.65,34.18 440.84,34.16 440.88,34.21 441.03,35.59 441.21,42.19 441.4,43.6 441.59,44.08 441.78,50.79 441.9,52.37 441.97,52.53 442.15,52.54 442.34,51.16 442.53,44.88 442.72,43.6 442.9,43.03 442.92,42.11 443.09,35.98 443.28,34.17 443.47,34.16 443.65,35.64 443.84,42.31 443.95,43.6 444.03,43.6 444.21,44.19 444.4,50.85 444.59,52.54 444.78,52.54 444.96,51.12 444.97,51.01 445.15,44.77 445.33,43.6 445.52,42.92 445.71,35.92 445.89,34.16 445.99,34.16 446.08,34.15 446.27,35.68 446.45,42.42 446.64,43.6 446.82,44.3 447.01,50.91 447.01,50.93 447.19,52.55 447.38,52.55 447.57,51.08 447.75,44.66 447.94,43.6 448.03,43.6 448.12,42.8 448.31,35.85 448.49,34.15 448.68,34.15 448.86,35.73 449.05,42.54 449.05,42.85 449.23,43.6 449.42,44.42 449.6,50.96 449.78,52.55 449.97,52.56 450.07,52.17 450.15,51.03 450.34,44.55 450.52,43.6 450.71,42.68 450.89,35.79 451.07,34.14 451.1,34.14 451.26,34.14 451.44,35.78 451.62,42.65 451.81,43.6 451.99,44.53 452.12,49.5 452.17,51.02 452.36,52.56 452.54,52.56 452.72,50.98 452.91,44.44 453.09,43.6 453.14,43.6 453.27,42.56 453.46,35.73 453.64,34.13 453.82,34.14 454,35.83 454.16,41.47 454.19,42.77 454.37,43.6 454.55,44.64 454.73,51.08 454.92,52.57 455.1,52.57 455.18,52.31 455.28,50.94 455.46,44.33 455.64,43.6 455.83,42.44 456.01,35.67 456.19,34.13 456.2,34.12 456.37,34.13 456.55,35.88 456.73,42.89 456.92,43.6 457.1,44.75 457.22,49.76 457.28,51.14 457.46,52.58 457.64,52.57 457.82,50.89 458,44.22 458.18,43.6 458.25,43.6 458.36,42.33 458.54,35.62 458.72,34.12 458.91,34.13 459.09,35.93 459.27,43 459.27,43.03 459.45,43.6 459.63,44.86 459.81,51.19 459.99,52.58 460.17,52.58 460.29,51.89 460.35,50.84 460.53,44.11 460.71,43.6 460.89,42.21 461.07,35.56 461.25,34.11 461.31,34.12 461.42,34.12 461.6,35.99 461.78,43.12 461.96,43.6 462.14,44.97 462.32,51.24 462.33,51.44 462.5,52.59 462.68,52.58 462.86,50.79 463.04,44 463.21,43.6 463.35,43.6 463.39,42.09 463.57,35.5 463.75,34.1 463.93,34.12 464.11,36.04 464.29,43.24 464.37,43.6 464.46,43.6 464.64,45.08 464.82,51.3 465,52.6 465.18,52.59 465.35,50.73 465.39,49.56 465.53,43.89 465.71,43.6 465.89,41.97 466.06,35.45 466.24,34.1 466.42,34.11 466.42,34.12 466.6,36.1 466.77,43.36 466.95,43.6 467.13,45.2 467.3,51.36 467.44,52.58 467.48,52.61 467.66,52.6 467.84,50.69 468.01,43.77 468.19,43.6 468.37,41.86 468.46,37.76 468.54,35.4 468.72,34.1 468.89,34.12 469.07,36.16 469.25,43.48 469.42,43.6 469.48,43.6 469.6,45.31 469.78,51.41 469.95,52.63 470.13,52.61 470.3,50.64 470.48,43.66 470.5,43.6 470.65,43.6 470.83,41.74 471.01,35.35 471.18,34.1 471.36,34.12 471.52,35.99 471.53,36.23 471.71,43.59 471.88,43.6 472.06,45.42 472.23,51.47 472.41,52.65 472.54,52.65 472.58,52.63 472.76,50.59 472.93,43.6 473.11,43.6 473.28,41.63 473.46,35.31 473.57,34.18 473.63,34.1 473.81,34.12 473.98,36.29 474.15,43.6" fill="none" stroke="#0a24f8" stroke-width="1.85" stroke-linejoin="round" />
<polyline points="473.46,35.31 473.57,34.18 473.63,34.1 473.81,34.12 473.98,36.29 474.15,43.6 474.33,43.6 474.5,45.54 474.59,49.13 474.68,51.53 474.85,52.66 475.02,52.64 475.2,50.54 475.37,43.6 475.55,43.6 475.61,43.6 475.72,41.51 475.89,35.26 476.07,34.1 476.24,34.13 476.41,36.36 476.59,43.6 476.63,43.6 476.76,43.6 476.93,45.65 477.11,51.59 477.28,52.68 477.45,52.65 477.63,50.49 477.65,49.68 477.8,43.6 477.97,43.6 478.14,41.4 478.32,35.22 478.49,34.1 478.66,34.13 478.67,34.16 478.83,36.43 479.01,43.6 479.18,43.6 479.35,45.76 479.52,51.64 479.69,52.69 479.7,52.69 479.87,52.66 480.04,50.44 480.21,43.6 480.38,43.6 480.55,41.28 480.72,35.38 480.73,35.18 480.9,34.1 481.07,34.14 481.24,36.49 481.41,43.6 481.58,43.6 481.74,45.01 481.76,45.87 481.93,51.7 482.1,52.71 482.27,52.67 482.44,50.38 482.61,43.6 482.76,43.6 482.78,43.6 482.95,41.17 483.12,35.13 483.29,34.1 483.47,34.14 483.64,36.56 483.78,42.83 483.81,43.6 483.98,43.6 484.15,45.99 484.32,51.75 484.49,52.72 484.66,52.68 484.8,51.05 484.83,50.33 485,43.6 485.17,43.6 485.34,41.06 485.51,35.09 485.68,34.1 485.82,34.11 485.85,34.15 486.02,36.63 486.19,43.6 486.36,43.6 486.53,46.1 486.7,51.8 486.84,52.74 486.87,52.74 487.03,52.69 487.2,50.27 487.37,43.6 487.54,43.6 487.71,40.95 487.87,35.34 487.88,35.05 488.05,34.1 488.22,34.15 488.39,36.71 488.56,43.6 488.72,43.6 488.89,45.9 488.89,46.21 489.06,51.85 489.23,52.75 489.4,52.7 489.57,50.21 489.74,43.6 489.9,43.6 489.91,43.6 490.07,40.83 490.24,35.02 490.41,34.1 490.58,34.16 490.74,36.78 490.91,43.6 490.93,43.6 491.08,43.6 491.25,46.32 491.42,51.9 491.58,52.77 491.75,52.71 491.92,50.15 491.95,49.01 492.09,43.6 492.25,43.6 492.42,40.72 492.59,34.98 492.76,34.1 492.92,34.16 492.97,34.45 493.09,36.85 493.26,43.6 493.42,43.6 493.59,46.44 493.76,51.95 493.92,52.78 493.99,52.78 494.09,52.72 494.26,50.09 494.42,43.6 494.59,43.6 494.76,40.61 494.92,34.94 495.02,34.16 495.09,34.1 495.26,34.17 495.42,36.93 495.59,43.6 495.76,43.6 495.92,46.55 496.04,50.94 496.09,52 496.25,52.79 496.42,52.72 496.59,50.02 496.75,43.6 496.92,43.6 497.06,41.76 497.08,40.51 497.25,34.92 497.41,34.12 497.58,34.2 497.75,37.02 497.91,43.6 498.08,43.6 498.08,43.6 498.24,46.65 498.41,52.02 498.57,52.77 498.74,52.69 498.9,49.93 499.07,43.6 499.1,43.6 499.23,43.6 499.4,40.41 499.56,34.92 499.73,34.16 499.89,34.24 500.06,37.12 500.12,39.81 500.22,43.6 500.39,43.6 500.55,46.74 500.72,52.03 500.88,52.75 501.05,52.66 501.14,51.68 501.21,49.84 501.38,43.6 501.54,43.6 501.71,40.31 501.87,34.92 502.04,34.19 502.17,34.2 502.2,34.28 502.37,37.22 502.53,43.6 502.7,43.6 502.87,46.84 503.03,52.04 503.19,52.73 503.2,52.72 503.36,52.63 503.53,49.75 503.69,43.6 503.86,43.6 504.02,40.22 504.19,34.91 504.21,34.64 504.35,34.23 504.52,34.33 504.68,37.32 504.85,43.6 505.01,43.6 505.18,46.94 505.23,49.18 505.34,52.05 505.51,52.7 505.67,52.6 505.84,49.66 506,43.6 506.17,43.6 506.25,43.6 506.33,40.12 506.5,34.92 506.66,34.26 506.83,34.37 506.99,37.43 507.16,43.6 507.27,43.6 507.32,43.6 507.49,47.03 507.65,52.06 507.82,52.68 507.98,52.57 508.15,49.57 508.29,43.6 508.31,43.6 508.48,43.6 508.64,40.03 508.81,34.92 508.97,34.3 509.14,34.41 509.3,37.53 509.32,37.91 509.47,43.6 509.64,43.6 509.8,47.12 509.97,52.07 510.13,52.65 510.3,52.54 510.34,52.25 510.46,49.47 510.63,43.6 510.79,43.6 510.96,39.94 511.12,34.92 511.29,34.33 511.36,34.33 511.45,34.46 511.62,37.63 511.78,43.6 511.95,43.6 512.11,47.22 512.28,52.07 512.38,52.63 512.44,52.63 512.61,52.51 512.77,49.38 512.94,43.6 513.1,43.6 513.27,39.85 513.4,35.43 513.43,34.92 513.6,34.37 513.76,34.5 513.93,37.73 514.09,43.6 514.26,43.6 514.42,47.23 514.42,47.31 514.59,52.08 514.75,52.61 514.92,52.47 515.08,49.28 515.25,43.6 515.41,43.6 515.44,43.6 515.58,39.76 515.74,34.93 515.91,34.4 516.08,34.54 516.24,37.84 516.41,43.6 516.47,43.6 516.57,43.6 516.74,47.4 516.9,52.08 517.07,52.59 517.23,52.44 517.4,49.19 517.49,45.2 517.56,43.6 517.73,43.6 517.89,39.67 518.06,34.92 518.22,34.42 518.39,34.58 518.51,36.47 518.55,37.93 518.72,43.6 518.88,43.6 519.05,47.49 519.21,52.09 519.38,52.57 519.53,52.48 519.54,52.41 519.71,49.1 519.87,43.6 520.04,43.6 520.2,39.58 520.37,34.91 520.53,34.44 520.55,34.44 520.7,34.61 520.86,38.03 521.03,43.6 521.19,43.6 521.36,47.58 521.52,52.1 521.57,52.45 521.69,52.55 521.85,52.38 522.02,49 522.18,43.6 522.35,43.6 522.52,39.49 522.59,36.59 522.68,34.91 522.85,34.46 523.01,34.64 523.18,38.12 523.34,43.6 523.51,43.6 523.61,45.03 523.67,47.67 523.84,52.11 524,52.53 524.17,52.35 524.33,48.91 524.5,43.6 524.64,43.6 524.66,43.6 524.83,39.4 524.99,34.9 525.16,34.48 525.32,34.67 525.49,38.22 525.65,43.6 525.66,43.6 525.82,43.6 525.98,47.75 526.15,52.11 526.31,52.51 526.48,52.32 526.64,48.82 526.68,47.34 526.81,43.6 526.97,43.6 527.14,39.31 527.3,34.9 527.47,34.5 527.63,34.7 527.7,35.49 527.8,38.32 527.96,43.6 528.13,43.6 528.29,47.84 528.46,52.12 528.62,52.49 528.72,52.5 528.79,52.29 528.96,48.72 529.12,43.6 529.29,43.6 529.45,39.22 529.62,34.89 529.74,34.51 529.78,34.52 529.95,34.73 530.11,38.41 530.28,43.6 530.44,43.6 530.61,47.92 530.76,52.05 530.77,52.12 530.94,52.48 531.1,52.26 531.27,48.62 531.43,43.6 531.6,43.6 531.76,39.14 531.79,38.17 531.93,34.89 532.09,34.53 532.26,34.77 532.42,38.51 532.59,43.6 532.75,43.6 532.81,43.6 532.92,48.01 533.08,52.12 533.25,52.46 533.41,52.22 533.58,48.53 533.74,43.6 533.83,43.6 533.91,43.6 534.07,39.05 534.24,34.88 534.4,34.55 534.57,34.8 534.73,38.61 534.85,43.6 534.9,43.6 535.06,43.6 535.23,48.09 535.39,52.12 535.56,52.44 535.73,52.19 535.87,49.14 535.89,48.43 536.06,43.6 536.22,43.6 536.39,38.97 536.55,34.88 536.72,34.57 536.88,34.83 536.89,34.94 537.05,38.71 537.21,43.6 537.38,43.6 537.54,48.17 537.71,52.13 537.87,52.42 537.91,52.43 538.04,52.16 538.2,48.33 538.37,43.6 538.53,43.6 538.7,38.89 538.86,34.88 538.94,34.59 539.03,34.59 539.19,34.87 539.36,38.81 539.52,43.6 539.69,43.6 539.85,48.25 539.96,51.33 540.02,52.13 540.18,52.4 540.35,52.12 540.51,48.23 540.68,43.6 540.84,43.6 540.98,40.13 541.01,38.8 541.17,34.88 541.34,34.61 541.5,34.9 541.67,38.91 541.83,43.6 542,43.6" fill="none" stroke="#0a24f8" stroke-width="0.8" stroke-linejoin="round" />
<polygon points="472,34 474,34.8 478.8,40 486,43 492,43.4 498,41.6 505,40 514,39.4 525,38.5 532,37 542,35.5 542,51.5 532,50.5 525,49.5 514,49 505,47.8 498,46 492,44.6 486,44.8 478.8,46.5 474,51.5 472,52.5" fill="#0a24f8"/>
</g>
<g clip-path="url(#c1)">
<polyline points="31.3,126 61.94,126 496.04,107.39 542,107.39" fill="none" stroke="#0a24f8" stroke-width="1.6" stroke-linejoin="round" />
</g>
<g clip-path="url(#c2)">
<polyline points="31.3,199 31.42,199 31.54,199 31.66,199 31.79,199 31.91,199 32.03,199 32.15,199 32.27,199 32.39,199 32.52,199 32.64,199 32.76,199 32.88,199 33,199 33.12,199 33.25,199 33.37,199 33.49,198.99 33.61,199 33.73,198.99 33.85,199 33.98,198.99 34.1,199.01 34.22,198.99 34.34,199 34.46,199.01 34.58,199 34.71,199 34.83,199.01 34.95,199 35.07,198.99 35.19,199 35.31,199 35.44,199.01 35.56,199.01 35.68,198.99 35.8,199.01 35.92,199.01 36.04,199 36.16,198.98 36.29,199.02 36.41,199.01 36.53,198.99 36.65,199 36.77,198.99 36.89,198.99 37.02,199 37.14,198.98 37.26,199 37.38,199 37.5,199 37.62,199.01 37.75,198.99 37.87,199.01 37.99,199.02 38.11,199 38.23,199 38.35,199.02 38.48,199 38.6,199.02 38.72,199 38.84,199.01 38.96,199.02 39.08,199.02 39.21,199 39.33,198.99 39.45,198.98 39.57,199.03 39.69,199 39.81,199.03 39.94,199.02 40.06,198.98 40.18,199.02 40.3,199.01 40.42,198.98 40.54,199.03 40.67,198.99 40.79,199.02 40.91,199 41.03,199.02 41.15,199 41.27,198.99 41.39,199.01 41.52,199 41.64,198.97 41.76,198.98 41.88,198.97 42,199 42.12,199.03 42.25,199.01 42.37,199.03 42.49,199.03 42.61,198.97 42.73,199.01 42.85,199.02 42.98,199.01 43.1,199.03 43.22,199.03 43.34,198.99 43.46,198.99 43.58,199.04 43.71,199.04 43.83,198.98 43.95,199 44.07,199.01 44.19,199.02 44.31,198.93 44.44,198.94 44.56,198.94 44.68,198.95 44.8,198.89 44.92,198.84 45.04,198.8 45.17,198.84 45.29,198.82 45.41,198.83 45.53,198.77 45.65,198.78 45.77,198.72 45.89,198.71 46.02,198.72 46.14,198.69 46.26,198.68 46.38,198.63 46.5,198.66 46.62,198.63 46.75,198.62 46.87,198.51 46.99,198.49 47.11,198.51 47.23,198.52 47.35,198.47 47.48,198.48 47.6,198.46 47.72,198.42 47.84,198.35 47.96,198.38 48.08,198.31 48.21,198.33 48.33,198.37 48.45,198.25 48.57,198.28 48.69,198.22 48.81,198.18 48.94,198.26 49.06,198.18 49.18,198.17 49.3,198.22 49.42,198.13 49.54,198.1 49.67,198.13 49.79,198.1 49.91,198.06 50.03,198.1 50.15,197.98 50.27,198.06 50.39,198.01 50.52,197.92 50.64,197.84 50.76,197.73 50.88,197.73 51,197.59 51.12,197.58 51.25,197.42 51.37,197.36 51.49,197.24 51.61,197.16 51.73,197.19 51.85,197.08 51.98,196.95 52.1,196.91 52.22,196.87 52.34,196.67 52.46,196.58 52.58,196.6 52.71,196.52 52.83,196.36 52.95,196.33 53.07,196.17 53.19,196.18 53.31,196.07 53.44,195.96 53.56,195.92 53.68,195.77 53.8,195.77 53.92,195.68 54.04,195.53 54.17,195.54 54.29,195.35 54.41,195.29 54.53,195.34 54.65,195.12 54.77,195.16 54.9,195.09 55.02,194.91 55.14,194.85 55.26,194.7 55.38,194.66 55.5,194.59 55.62,194.49 55.75,194.36 55.87,194.27 55.99,194.17 56.11,193.99 56.23,193.94 56.35,193.85 56.48,193.69 56.6,193.64 56.72,193.55 56.84,193.52 56.96,193.26 57.08,193.3 57.21,193.15 57.33,193.11 57.45,192.92 57.57,192.88 57.69,192.7 57.81,192.53 57.94,192.59 58.06,192.43 58.18,192.21 58.3,192.3 58.42,192.15 58.54,192.05 58.67,191.81 58.79,191.78 58.91,191.59 59.03,191.48 59.15,191.42 59.27,191.43 59.4,191.19 59.52,191.25 59.64,191.05" fill="none" stroke="#0a24f8" stroke-width="2.2" stroke-linejoin="round" />
<polyline points="59.15,191.42 59.27,191.43 59.4,191.19 59.52,191.25 59.64,191.05 59.76,190.84 59.88,190.74 60,190.69 60.12,190.78 60.25,190.52 60.37,190.3 60.49,190.21 60.61,190.35 60.73,190.2 60.85,190.06 60.98,189.89 61.1,189.68 61.22,189.59 61.34,189.5 61.46,189.44 61.58,189.21 61.71,189.23 61.83,189.2 61.95,189.02 62.07,189.03 62.19,188.8 62.31,188.55 62.44,188.75 62.56,188.66 62.68,188.48 62.8,188.29 62.92,188.28 63.04,188.25 63.17,188.1 63.29,187.83 63.41,187.83 63.53,187.47 63.65,187.5 63.77,187.22 63.9,187.35 64.02,187.33 64.14,187.01 64.26,186.93 64.38,186.8 64.5,186.76 64.63,186.54 64.75,186.7 64.87,186.28 64.99,186.36 65.11,186.23 65.23,186.28 65.35,186.33 65.48,186.27 65.6,186.4 65.72,186.48 65.84,186.54 65.96,186.69 66.08,186.56 66.21,186.5 66.33,186.97 66.45,186.75 66.57,186.83 66.69,186.72 66.81,186.98 66.94,187.06 67.06,186.78 67.18,186.84 67.3,187.18 67.42,186.82 67.54,187.29 67.67,187.03 67.79,187.39 67.91,187.45 68.03,187.45 68.15,187.46 68.27,187.29 68.4,187.23 68.52,187.19 68.64,187.1 68.76,186.72 68.88,186.69 69,186.97 69.13,187.05 69.25,186.53 69.37,186.88 69.49,186.33 69.61,186.33 69.73,186.61 69.85,186.48 69.98,186.38 70.1,186.1 70.22,186.56 70.34,186.26 70.46,186.4 70.58,185.93 70.71,186.32 70.83,185.84 70.95,185.74 71.07,186.04 71.19,185.61 71.31,185.89 71.44,185.79 71.56,185.76 71.68,185.42 71.8,185.31 71.92,185.42 72.04,185.4 72.17,185.03 72.29,185.43 72.41,185.04 72.53,185.38 72.65,185.15 72.77,185.16 72.9,185.25 73.02,185.22 73.14,184.8 73.26,184.77 73.38,185.34 73.5,185.07 73.63,185.04 73.75,185.18 73.87,185.33 73.99,185.58 74.11,185.6 74.23,185.76 74.35,185.77 74.48,185.27 74.6,185.9 74.72,185.87 74.84,185.84 74.96,185.95 75.08,186.1 75.21,186.28 75.33,186.19 75.45,186.03 75.57,186.49 75.69,186.32 75.81,186.26 75.94,186.25 76.06,186.58 76.18,186.64 76.3,186.8 76.42,186.53 76.54,186.63 76.67,186.34 76.79,186.55 76.91,186.5 77.03,187.2 77.15,187.04 77.27,187.25 77.4,187.07 77.52,187.4 77.64,186.94 77.76,186.67 77.88,187.3 78,186.67 78.13,186.95 78.25,187.43 78.37,187.02 78.49,186.87 78.61,187.42 78.73,187.25 78.86,186.7 78.98,186.61 79.1,186.94 79.22,186.96 79.34,186.6 79.46,186.82 79.58,186.79 79.71,186.49 79.83,187.23 79.95,187 80.07,187.11 80.19,186.55 80.31,187.34 80.44,186.78 80.56,186.59 80.68,187.22 80.8,187.09 80.92,187.06 81.04,186.82 81.17,187.27 81.29,186.88 81.41,186.74 81.53,187.3 81.65,186.55 81.77,187.25 81.9,187.27 82.02,186.69 82.14,186.41 82.26,187.03 82.38,186.56 82.5,187.18 82.63,186.78 82.75,186.35 82.87,186.48 82.99,186.33 83.11,186.72 83.23,186.19 83.36,186.31 83.48,186.89 83.6,186.3 83.72,186.48 83.84,186.13 83.96,186.48 84.08,186.81 84.21,186.51 84.33,186.31 84.45,186.26 84.57,186.43 84.69,186.66 84.81,186.44 84.94,186.87 85.06,185.99 85.18,186.52 85.3,186.67 85.42,186.02 85.54,186.13 85.67,186.72 85.79,186.26 85.91,186.36 86.03,186.26 86.15,186.8 86.27,186.25 86.4,186.23 86.52,186.63 86.64,185.82 86.76,185.78 86.88,185.83 87,185.83 87.13,186.06 87.25,185.82 87.37,186.45 87.49,186.31 87.61,185.83 87.73,185.95 87.86,186.18 87.98,186.72 88.1,186.16 88.22,186.44 88.34,185.82 88.46,185.79 88.58,185.95 88.71,185.6 88.83,185.88 88.95,186.05 89.07,186.44 89.19,186.38 89.31,186.42 89.44,186.07 89.56,185.59 89.68,186.05 89.8,185.41 89.92,185.83 90.04,185.36 90.17,185.32 90.29,186.17 90.41,185.33 90.53,185.09 90.65,185.49 90.77,186.16 90.9,185.16 91.02,185.64 91.14,185.85 91.26,185.36 91.38,185.93 91.5,185.64 91.63,185.82 91.75,185.55 91.87,185.01 91.99,185.47 92.11,185.9 92.23,184.84 92.36,185.63 92.48,185.26 92.6,184.73 92.72,185.36 92.84,185.72 92.96,185.12 93.09,184.71 93.21,185.09 93.33,184.64 93.45,185.36 93.57,185.94 93.69,185.99 93.81,185.69 93.94,184.88 94.06,185.89 94.18,185.66 94.3,185.07 94.42,185.24 94.54,184.56 94.67,185.02 94.79,185.36 94.91,184.08 95.03,185.14 95.15,184.04 95.27,184.33 95.4,183.98 95.52,183.81 95.64,183.99 95.76,184.16 95.88,185.06 96,185.14 96.13,184.22 96.25,183.58 96.37,183.51 96.49,184.06 96.61,184.55 96.73,183.73 96.86,183.33 96.98,183.24 97.1,184.72 97.22,184.3 97.34,184.05 97.46,184.04 97.59,184.26 97.71,183.53 97.83,183.57 97.95,183.3 98.07,183.98 98.19,184.09 98.31,183.06 98.44,183.86 98.56,184 98.68,183.14 98.8,183.98 98.92,183.9 99.04,183.51 99.17,184.06 99.29,183.74 99.41,182.63 99.53,183.58 99.65,184.06 99.77,182.77 99.9,183.43 100.02,182.41 100.14,182.86 100.26,183.48 100.38,182.48 100.5,183.85 100.63,182.49 100.75,183.17 100.87,182.94 100.99,182.29 101.11,182.26 101.23,183.84 101.36,183.06 101.48,182.19 101.6,183.07 101.72,183.66 101.84,182.19 101.96,183.36 102.09,182.54 102.21,182.72 102.33,182.69 102.45,182.04 102.57,182.67 102.69,182.86 102.82,183.76 102.94,183.13 103.06,182.47 103.18,182.55 103.3,182.98 103.42,183.35 103.54,183.26 103.67,183.68 103.79,183.67 103.91,182.43 104.03,182.65 104.15,182.35 104.27,182.44 104.4,182.25 104.52,182.88 104.64,183.39 104.76,183.46 104.88,183.2 105,182.3 105.13,182.19 105.25,183.13 105.37,182.67 105.49,183.54 105.61,181.88 105.73,183.78 105.86,182.54 105.98,182.73 106.1,183.2 106.22,182.15 106.34,183.77 106.46,182.73 106.59,182.46 106.71,182.32 106.83,182.58 106.95,182.39 107.07,182.16 107.19,182.6 107.32,182.77 107.44,183.5 107.56,183.01 107.68,182.12 107.8,182.83 107.92,182.96 108.04,183.16 108.17,182.93 108.29,182.5 108.41,182.44 108.53,183.32 108.65,182.19 108.77,183.86 108.9,183.22 109.02,183.69 109.14,182.48 109.26,182.84 109.38,182.1 109.5,182.01 109.63,182.09 109.75,182.41 109.87,181.84 109.99,183.31 110.11,182.71 110.23,183.9 110.36,182.2 110.48,183.62 110.6,182.41 110.72,182.36 110.84,182.84 110.96,182.75 111.09,181.93 111.21,183.02 111.33,183.45 111.45,182.83 111.57,182.3 111.69,182.53 111.82,184.2 111.94,182.83 112.06,183.81 112.18,183.14 112.3,181.95 112.42,182.15 112.54,183.63 112.67,183.66 112.79,183.26 112.91,183.4 113.03,183.11 113.15,182.71 113.27,182.01 113.4,183.65 113.52,184.52 113.64,183.69 113.76,183.44 113.88,183.3 114,184.24 114.13,184.52 114.25,183.37 114.37,182.7 114.49,182.66 114.61,184.67 114.73,183.19 114.86,183.51 114.98,183.95 115.1,183.25 115.22,184.49 115.34,182.35 115.46,183.42 115.59,184.69 115.71,184.77 115.83,184.14 115.95,184.35 116.07,183.36 116.19,183.43 116.32,183.53 116.44,182.88 116.56,184.82 116.68,182.54 116.8,184.02 116.92,185.16 117.05,185.06 117.17,183 117.29,184.57 117.41,184.14 117.53,185.23 117.65,183.55 117.77,185.46 117.9,183.16 118.02,185.53 118.14,183.39 118.26,184.67 118.38,184.82 118.5,185.7 118.63,184.97 118.75,183.29 118.87,186.02 118.99,185.9 119.11,183.36 119.23,183.83 119.36,183.55 119.48,183.68 119.6,183.46 119.72,185.34 119.84,183.95 119.96,185.51 120.09,184.67 120.21,186.66 120.33,185.85 120.45,185.79 120.57,185.8 120.69,186.47 120.82,186.9 120.94,186.32 121.06,187.13 121.18,186.6 121.3,185.22 121.42,185.45 121.55,185.15 121.67,185.2 121.79,187.31 121.91,185.7 122.03,186.23 122.15,186.25 122.27,186.5 122.4,186.29 122.52,185 122.64,187.15 122.76,185.63 122.88,186.52 123,185.99 123.13,186.95 123.25,185.32 123.37,186.05 123.49,186.82 123.61,188.49 123.73,188.37 123.86,187.84 123.98,186.03 124.1,187.64 124.22,185.98 124.34,187.55 124.46,186.56 124.59,188.13 124.71,188.1 124.83,185.14 124.95,186.12 125.07,188 125.19,187.45 125.32,188.17 125.44,187.83 125.56,185.83 125.68,187.82 125.8,185.62 125.92,188.96 126.05,186.67 126.17,188.15 126.29,185.73 126.41,187.76 126.53,188 126.65,187.75 126.77,188.74 126.9,185.72 127.02,185.68 127.14,186.38 127.26,187.06 127.38,187.55 127.5,187.25 127.63,185.33 127.75,187.25 127.87,186.56 127.99,187.89 128.11,186.27 128.23,187.51 128.36,187.66 128.48,188.49 128.6,188.29 128.72,188.95 128.84,187.81 128.96,185.9 129.09,186.52 129.21,187.05 129.33,187.03 129.45,188.04 129.57,188.71 129.69,188.98 129.82,186.4 129.94,186.18 130.06,187.07 130.18,187.87 130.3,188.86 130.42,189.52 130.55,189.39 130.67,186.94 130.79,187.89 130.91,187.96 131.03,186.59 131.15,185.85 131.28,186.86 131.4,186.24 131.52,186.8 131.64,187.43 131.76,187.78 131.88,188.86 132,185.75 132.13,186.3 132.25,187.58 132.37,186.72 132.49,188.68 132.61,187.4 132.73,186.86 132.86,189.15 132.98,186.56 133.1,189.26 133.22,188.22 133.34,187.4 133.46,187.96 133.59,188.73 133.71,187.17" fill="none" stroke="#0a24f8" stroke-width="2.8" stroke-linejoin="round" />
<polyline points="133.22,188.22 133.34,187.4 133.46,187.96 133.59,188.73 133.71,187.17 133.83,189.54 133.95,188.78 134.07,189.48 134.19,189.33 134.32,187.37 134.44,187.61 134.56,186.94 134.68,188.28 134.8,188.76 134.92,185.43 135.05,188.84 135.17,185.81 135.29,187.73 135.41,189.33 135.53,187.3 135.65,186.49 135.78,185.54 135.9,187.75 136.02,187.63 136.14,187.77 136.26,187.54 136.38,187.62 136.5,186.97 136.63,187.81 136.75,187.66 136.87,186.78 136.99,186.31 137.11,185.87 137.23,187.12 137.36,185.78 137.48,186.54 137.6,186.96 137.72,189.41 137.84,189.5 137.96,189.8 138.09,188.51 138.21,187.72 138.33,188.92 138.45,187.34 138.57,189.69 138.69,187.81 138.82,188.9 138.94,188.4 139.06,186.21 139.18,189.8 139.3,186.4 139.42,188.54 139.55,185.67 139.67,188.28 139.79,186.5 139.91,188.58 140.03,187.7 140.15,187.64 140.28,188.77 140.4,187.98 140.52,189.7 140.64,185.79 140.76,187.09 140.88,187.96 141.01,188.45 141.13,190.5 141.25,188.28 141.37,189.58 141.49,188 141.61,187.11 141.73,189.38 141.86,186.65 141.98,188.22 142.1,189.43 142.22,188.97 142.34,187.47 142.46,187.44 142.59,186.57 142.71,187.55 142.83,186.97 142.95,189.81 143.07,187.56 143.19,188.14 143.32,188.84 143.44,188.25 143.56,186.54 143.68,188.96 143.8,188.42 143.92,185.89 144.05,188.35 144.17,189.79 144.29,187.71 144.41,187.65 144.53,189.28 144.65,190.32 144.78,189.8 144.9,186.99 145.02,187.07 145.14,187.07 145.26,187.78 145.38,186.81 145.51,187.94 145.63,189.62 145.75,189.91 145.87,186.84 145.99,185.42 146.11,185.29 146.23,188.62 146.36,189 146.48,188.05 146.6,189.06 146.72,186.34 146.84,189.03 146.96,187.78 147.09,189.3 147.21,185.53 147.33,188.83 147.45,187.41 147.57,187.66 147.69,189.37 147.82,186.38 147.94,188.94 148.06,189.95 148.18,187.76 148.3,187.24 148.42,188.28 148.55,189.1 148.67,185.16 148.79,188.73 148.91,188.97 149.03,185.45 149.15,186.97 149.28,186.08 149.4,187.5 149.52,185.6 149.64,185.36 149.76,186.86 149.88,185.91 150.01,189.07 150.13,188.14 150.25,187.69 150.37,187.56 150.49,190.01 150.61,189.92 150.73,186.82 150.86,190.22 150.98,188.3 151.1,185.18 151.22,189.71 151.34,186.6 151.46,187.9 151.59,189.78 151.71,189.88 151.83,188.61 151.95,189.37 152.07,186.5 152.19,185.79 152.32,186.61 152.44,187.12 152.56,187.91 152.68,189.75 152.8,184.86 152.92,186.17 153.05,189.1 153.17,190.13 153.29,190.26 153.41,187.21 153.53,185.53 153.65,185.08 153.78,186.78 153.9,189.43 154.02,186.83 154.14,187.26 154.26,190.15 154.38,185.85 154.51,188.02 154.63,187.03 154.75,187.13 154.87,187.83 154.99,188.75 155.11,189.77 155.24,189.24 155.36,186.45 155.48,187.23 155.6,185.41 155.72,188.87 155.84,189.62 155.96,186.44 156.09,185.16 156.21,187.13 156.33,188.81 156.45,186.71 156.57,188.31 156.69,185.63 156.82,185.46 156.94,185.34 157.06,188.84 157.18,186.64 157.3,188.12 157.42,190.4 157.55,187.29 157.67,190.1 157.79,187.64 157.91,187.08 158.03,185.39 158.15,187.14 158.28,189.79 158.4,186.65 158.52,189.2 158.64,188.91 158.76,189.94 158.88,188.54 159.01,190.09 159.13,189.78 159.25,187.57 159.37,186.49 159.49,187.04 159.61,188.58 159.74,186.76 159.86,189.27 159.98,185.84 160.1,187.35 160.22,187.71 160.34,185.38 160.46,189.14 160.59,185.4 160.71,189.98 160.83,186.31 160.95,190.58 161.07,187.23 161.19,187.34 161.32,188.47 161.44,185.21 161.56,185.08 161.68,185.67 161.8,188.25 161.92,184.93 162.05,190.33 162.17,187.04 162.29,188.01 162.41,187.3 162.53,186.88 162.65,184.88 162.78,188.01 162.9,188.9 163.02,188.28 163.14,188.98 163.26,189.06 163.38,185.78 163.51,186.59 163.63,185.13 163.75,186.87 163.87,185.19 163.99,188.08 164.11,187.35 164.24,185.89 164.36,187.99 164.48,186.27 164.6,185.77 164.72,188.62 164.84,185.1 164.96,186.63 165.09,185.58 165.21,187.81 165.33,190.09 165.45,186.95 165.57,190.31 165.69,187.55 165.82,186.79 165.94,187.27 166.06,189.99 166.18,189.44 166.3,186.89 166.42,187.57 166.55,189.73 166.67,186.21 166.79,190.61 166.91,187.93 167.03,188.69 167.15,188.27 167.28,186.59 167.4,186.85 167.52,189.22 167.64,187.62 167.76,189.65 167.88,186.3 168.01,187.79 168.13,189.57 168.25,186.87 168.37,187.22 168.49,189.04 168.61,188.55 168.74,186.54 168.86,186.17 168.98,184.91 169.1,185.23 169.22,190.66 169.34,188.18 169.47,189.99 169.59,185.93 169.71,185.72 169.83,190.24 169.95,187.31 170.07,190.71 170.19,191.14 170.32,188.15 170.44,189.16 170.56,186.65 170.68,188.27 170.8,188.4 170.92,185.75 171.05,191.16 171.17,186.95 171.29,185.51 171.41,186.68 171.53,189.58 171.65,186.11 171.78,188.48 171.9,189.02 172.02,186.19 172.14,185.43 172.26,186.42 172.38,185.68 172.51,189.56 172.63,186.28 172.75,187.07 172.87,188.93 172.99,188.24 173.11,190.72 173.24,185.1 173.36,185.78 173.48,185.49 173.6,190.26 173.72,190.83 173.84,185.27 173.97,186.53 174.09,188.54 174.21,189.65 174.33,190.01 174.45,188.48 174.57,185.39 174.69,185.36 174.82,188.58 174.94,185.03 175.06,185.29 175.18,188.05 175.3,186.13 175.42,188.5 175.55,187.94 175.67,189.74 175.79,185.3 175.91,188.14 176.03,186.52 176.15,187.78 176.28,187.01 176.4,184.79 176.52,186.59 176.64,187.12 176.76,189.74 176.88,185.06 177.01,188.18 177.13,184.7 177.25,187.06 177.37,190.19 177.49,187.31 177.61,186.87 177.74,185.33 177.86,185.91 177.98,187.69 178.1,186.12 178.22,188.4 178.34,189.39 178.47,185.94 178.59,185.3 178.71,188.29 178.83,187.96 178.95,190.25 179.07,186.44 179.2,185.68 179.32,185.34 179.44,187.75 179.56,185.81 179.68,188.59 179.8,188.76 179.92,185.16 180.05,186.97 180.17,187.65 180.29,190.28 180.41,190.14 180.53,187.6 180.65,184.91 180.78,190.49 180.9,186.02 181.02,184.65 181.14,190.34 181.26,188.81 181.38,189.68 181.51,185.35 181.63,190.44 181.75,190.08 181.87,190.65 181.99,185.28 182.11,187.39 182.24,189.8 182.36,187.38 182.48,185.96 182.6,186.02 182.72,186.07 182.84,190.45 182.97,187.33 183.09,185.31 183.21,188.18 183.33,189.56 183.45,185.46 183.57,186.92 183.7,186.4 183.82,186.4 183.94,188.05 184.06,186.91 184.18,187.12 184.3,190.45 184.42,190.33 184.55,189.74 184.67,186.61 184.79,186.94 184.91,189.96 185.03,189.47 185.15,190.15 185.28,189.91 185.4,185.8 185.52,186.74 185.64,187.33 185.76,186.79 185.88,187.99 186.01,187.56 186.13,188.54 186.25,186.33 186.37,189.66 186.49,185.81 186.61,186.32 186.74,190.19 186.86,186.58 186.98,189.82 187.1,189.37 187.22,187.1 187.34,190.99 187.47,189.23 187.59,186.95 187.71,185.99 187.83,189.27 187.95,189.42 188.07,186.89 188.2,186.29 188.32,186.9 188.44,186.15 188.56,185.49 188.68,190.8 188.8,190.45 188.92,188.25 189.05,188.04 189.17,191.32 189.29,189.79 189.41,187.84 189.53,189.04 189.65,190.33 189.78,191.11 189.9,186.51 190.02,190.04 190.14,190.53 190.26,186.15 190.38,187.97 190.51,189.22 190.63,188.16 190.75,188.21 190.87,191.18 190.99,189.18 191.11,187.58 191.24,186.37 191.36,190.9 191.48,191.15 191.6,185.63 191.72,186.78 191.84,190.32 191.97,185.65 192.09,191.12 192.21,186.07 192.33,190.49 192.45,188.22 192.57,190.79 192.7,190.36 192.82,189.94 192.94,188.39 193.06,187.81 193.18,187.47 193.3,189.6 193.43,187.59 193.55,190.15 193.67,190.06 193.79,185.58 193.91,190.44 194.03,186.97 194.15,189.78 194.28,185.36 194.4,189.08 194.52,185.76 194.64,188.43 194.76,189.17 194.88,190.11 195.01,190.64 195.13,186.38 195.25,190.43 195.37,186.34 195.49,186.44 195.61,189.15 195.74,191.64 195.86,187.15 195.98,186.9 196.1,189.96 196.22,185.49 196.34,187.26 196.47,187.26 196.59,188.19 196.71,189.42 196.83,191.37 196.95,189.46 197.07,185.84 197.2,186.98 197.32,189.04 197.44,185.37 197.56,186.84 197.68,190.32 197.8,191.34 197.93,187.86 198.05,189.69 198.17,188.32 198.29,190.25 198.41,190.17 198.53,190 198.65,187.53 198.78,190.64 198.9,186.78 199.02,187.38 199.14,186.84 199.26,186.6 199.38,188.7 199.51,186.55 199.63,188.55 199.75,190.9 199.87,189.94 199.99,190.35 200.11,188.74 200.24,189.36 200.36,184.97 200.48,187.62 200.6,190.98 200.72,185.61 200.84,189.66 200.97,189.72 201.09,188.88 201.21,190.77 201.33,185.01 201.45,186.79 201.57,189.17 201.7,188.44 201.82,189.92 201.94,188.19 202.06,189.48 202.18,184.43 202.3,186.92 202.43,187.98 202.55,187.49 202.67,190.4 202.79,185.72 202.91,184.76 203.03,185.46 203.15,187.99 203.28,185.93 203.4,188.5 203.52,189.83 203.64,186.39 203.76,185.73 203.88,185.83 204.01,186.06 204.13,189.46 204.25,188.58 204.37,186.25 204.49,189.16 204.61,185.22 204.74,189.51 204.86,187.49 204.98,186.44 205.1,185.45 205.22,187.34 205.34,190.5 205.47,188.5 205.59,188.24 205.71,188.14 205.83,187.98 205.95,186.18 206.07,184.83 206.2,188.04 206.32,189.68 206.44,186.83 206.56,189.92 206.68,189.62 206.8,190.23 206.93,188.27 207.05,185.03 207.17,189.11 207.29,185.59 207.41,184.29 207.53,185.83 207.66,184.49 207.78,187.53 207.9,185.84 208.02,187.71 208.14,187.24 208.26,187.88 208.38,187.42 208.51,188.6 208.63,187.19 208.75,186.36 208.87,185.34 208.99,184.9 209.11,189.06 209.24,189.49 209.36,189.97 209.48,185.4 209.6,190.05 209.72,186.39 209.84,189.19 209.97,189.46 210.09,185.18 210.21,186.49 210.33,186.03 210.45,188.15 210.57,186.54 210.7,190.35 210.82,190.27 210.94,189.37 211.06,188.11 211.18,187.74 211.3,188.13 211.43,188.79 211.55,191.03 211.67,189.56 211.79,187.43 211.91,189.15 212.03,189.84 212.16,188.63 212.28,186.31 212.4,189.14 212.52,186.59 212.64,188.43 212.76,187.36 212.88,187.81 213.01,190.59 213.13,190.39 213.25,190.67 213.37,189.96 213.49,190.68 213.61,185.93 213.74,190.09 213.86,187.08 213.98,185.35 214.1,190.02 214.22,185.13 214.34,185.55 214.47,184.92 214.59,187.85 214.71,189.61 214.83,187.15 214.95,185.1 215.07,191 215.2,185.35 215.32,188.43 215.44,187.1 215.56,188.1 215.68,189.15 215.8,188.39 215.93,188.39 216.05,185.16 216.17,184.6 216.29,185.81 216.41,185.6 216.53,189.01 216.66,187.25 216.78,189.32 216.9,184.41 217.02,184.82 217.14,187.78 217.26,187.94 217.39,185.62 217.51,190.73 217.63,185.36 217.75,190.3 217.87,184.81 217.99,190.03 218.11,187.94 218.24,186.47 218.36,186.23 218.48,187.46 218.6,185.42 218.72,188.19 218.84,186.3 218.97,185.2 219.09,188.29 219.21,187.32 219.33,185.44 219.45,185.53 219.57,186.4 219.7,190.02 219.82,188.89 219.94,188.91 220.06,185.36 220.18,187.69 220.3,188.99 220.43,186.65 220.55,186.74 220.67,184.51 220.79,189.65 220.91,187.13 221.03,187.53 221.16,186.98 221.28,186.33 221.4,188.77 221.52,188.33 221.64,188.68 221.76,184.95 221.89,190.5 222.01,185.04 222.13,185.29 222.25,187.63 222.37,190.82 222.49,190.08 222.61,190.61 222.74,190.71 222.86,186.09 222.98,184.89 223.1,186.41 223.22,190.55 223.34,184.64 223.47,187.74 223.59,184.46 223.71,186.61 223.83,185.35 223.95,189.97 224.07,189.25 224.2,188.59 224.32,189.64 224.44,190.43 224.56,185.06 224.68,189.51 224.8,185.31 224.93,190.6 225.05,190.06 225.17,188.9 225.29,188.21 225.41,189.32 225.53,189.98 225.66,187.5 225.78,187.25 225.9,191.63 226.02,187.85 226.14,190.09 226.26,188.94 226.39,190.74 226.51,191.08 226.63,189.62 226.75,185.95 226.87,187.21 226.99,188.24 227.11,186.53 227.24,185.21 227.36,185.49 227.48,188.6 227.6,187.92 227.72,191.19 227.84,187.61 227.97,189.15 228.09,189.34 228.21,189.34 228.33,185.65 228.45,190.89 228.57,185.61 228.7,186.8 228.82,187.4 228.94,189.66 229.06,187.87 229.18,191.79 229.3,191.95 229.43,191.61 229.55,188.06 229.67,189.74 229.79,190.97 229.91,186.52 230.03,192.04 230.16,186.94 230.28,188.61 230.4,189.64 230.52,189.78 230.64,186.78 230.76,190.46 230.89,191.18 231.01,187.99 231.13,188.28 231.25,190.36 231.37,185.47 231.49,188.63 231.62,190.29 231.74,190.26 231.86,188 231.98,188.94 232.1,190.99 232.22,190.39 232.34,186.63 232.47,190.4 232.59,190.8 232.71,185.97 232.83,190.67 232.95,191.36 233.07,186.09 233.2,191.4 233.32,190.1 233.44,191.46 233.56,187.73 233.68,185.96 233.8,189.27 233.93,191.34 234.05,187.57 234.17,188.38 234.29,190.45 234.41,189.53 234.53,189.09 234.66,189.39 234.78,191.65 234.9,190.74 235.02,188.98 235.14,190.25 235.26,188.41 235.39,189.09 235.51,187.91 235.63,190.78 235.75,186.89 235.87,188.7 235.99,189.83 236.12,191.81 236.24,188.11 236.36,188.43 236.48,191.79 236.6,188.43 236.72,191.88 236.84,186.58 236.97,190.85 237.09,191.89 237.21,187.39 237.33,187.01 237.45,188.61 237.57,187.8 237.7,187.14 237.82,191.27 237.94,188.51 238.06,188.43 238.18,186.79 238.3,189.35 238.43,185.68 238.55,191.64 238.67,189.44 238.79,191.86 238.91,189.34 239.03,190.73 239.16,191.54 239.28,188.86 239.4,190.83 239.52,186.45 239.64,186.31 239.76,189.02 239.89,190.82 240.01,191.09 240.13,188.8 240.25,188.9 240.37,191.53 240.49,191.73 240.62,190.26 240.74,190.64 240.86,187.22 240.98,188.89 241.1,188.73 241.22,190.01 241.34,188.92 241.47,189.39 241.59,189.89 241.71,187.62 241.83,190.25 241.95,186.04 242.07,188.61 242.2,191.25 242.32,187.94 242.44,189.77 242.56,186.77 242.68,191.13 242.8,187.04 242.93,189.32 243.05,190.07 243.17,189.42 243.29,186.1 243.41,186.59 243.53,187.5 243.66,191.38 243.78,187.2 243.9,185.3 244.02,185.81 244.14,190.14 244.26,185.91 244.39,189.1 244.51,185.66 244.63,188.39 244.75,187.16 244.87,190.36 244.99,188.1 245.12,188.73 245.24,190.16 245.36,187.68 245.48,185.55 245.6,187.4 245.72,191.45 245.85,190.65 245.97,191.91 246.09,189.25 246.21,186.27 246.33,190.2 246.45,189.83 246.57,186.07 246.7,189.57 246.82,189.09 246.94,185.83 247.06,185.71 247.18,185.78 247.3,185.58 247.43,189.35 247.55,189.63 247.67,189.74 247.79,187.79 247.91,188.84 248.03,185.51 248.16,191.58 248.28,189.97 248.4,187.06 248.52,189.97 248.64,191.64 248.76,190.91 248.89,188.56 249.01,186.39 249.13,189.94 249.25,187.44 249.37,190.41 249.49,186.45 249.62,188.73 249.74,187.27 249.86,191.6 249.98,189.49 250.1,189.9 250.22,191.25 250.35,186.32 250.47,188.12 250.59,187.07 250.71,185.88 250.83,189.3 250.95,189.42 251.07,189.29 251.2,187.14 251.32,191.7 251.44,188 251.56,192.34 251.68,190.19 251.8,190.76 251.93,188.84 252.05,186.03 252.17,189.88 252.29,189.33 252.41,189.08 252.53,188.01 252.66,187.33 252.78,189.88 252.9,190.06 253.02,189.3 253.14,189.52 253.26,189.12 253.39,188.37 253.51,186.02 253.63,191.65 253.75,191.66 253.87,189.9 253.99,187.4 254.12,190.03 254.24,190.93 254.36,191.14 254.48,185.92 254.6,186.26 254.72,190.56 254.85,189.65 254.97,186.31 255.09,190.66 255.21,186.5 255.33,188.41 255.45,189.97 255.58,189.36 255.7,190.89 255.82,190.92 255.94,188.49 256.06,191.92 256.18,190.28 256.3,185.55 256.43,185.6 256.55,189.43 256.67,186.84 256.79,189.12 256.91,190.65 257.03,189.82 257.16,188.67 257.28,189.46 257.4,189.24 257.52,191.06 257.64,187.01 257.76,190.39 257.89,186.43 258.01,185.98 258.13,185.93 258.25,186.46 258.37,185.38 258.49,186.88 258.62,190.69 258.74,189.81 258.86,190.77 258.98,184.99 259.1,190.34 259.22,189.61 259.35,188.8 259.47,190.75 259.59,189.02 259.71,185.53 259.83,185.91 259.95,189.17 260.08,190.89 260.2,185.13 260.32,189.29 260.44,185.73 260.56,186.43 260.68,186.25 260.8,191.27 260.93,187.5 261.05,187.17 261.17,188.6 261.29,191.42 261.41,185.52 261.53,187.84 261.66,188.68 261.78,188.51 261.9,190.08 262.02,191.69 262.14,185.82 262.26,188.01 262.39,185.31 262.51,189.69 262.63,191.26 262.75,191.46 262.87,188.94 262.99,191.15 263.12,190.8 263.24,185.85 263.36,191.12 263.48,188.38 263.6,188.71 263.72,187.51 263.85,191.21 263.97,188.92 264.09,188.67 264.21,189.15 264.33,191.23 264.45,189.3 264.58,188.61 264.7,191 264.82,190.1 264.94,190.58 265.06,189.36 265.18,187.43 265.3,187.57 265.43,190.17 265.55,185.92 265.67,189.68 265.79,187.89 265.91,190.07 266.03,186.29 266.16,185.29 266.28,185.94 266.4,187.46 266.52,184.69 266.64,184.32 266.76,187.56 266.89,187.28 267.01,185.24 267.13,186.92 267.25,187.27 267.37,184.42 267.49,190.28 267.62,189.65 267.74,189.84 267.86,189.11 267.98,186.15 268.1,188.71 268.22,185.01 268.35,185.47 268.47,188.51 268.59,185.25 268.71,187.59 268.83,187.71 268.95,184.63 269.08,187.38 269.2,187.21 269.32,186.54 269.44,191 269.56,189.53 269.68,185.84 269.81,189.35 269.93,186.11 270.05,189.74 270.17,189.86 270.29,189.3 270.41,188.97 270.53,189.37 270.66,185.51 270.78,187.74 270.9,188.23 271.02,190.83 271.14,186.62 271.26,189.06 271.39,189.47 271.51,189.3 271.63,187.5 271.75,188.35 271.87,186.8 271.99,190.52 272.12,189.2 272.24,191.52 272.36,189.95 272.48,185.98 272.6,188.76 272.72,192.03 272.85,190.65 272.97,185.97 273.09,189.75 273.21,187.41 273.33,185.96 273.45,186.58 273.58,187.47 273.7,191.37 273.82,190.13 273.94,189.84 274.06,188.81 274.18,186.89 274.31,191.5 274.43,190.95 274.55,189.82 274.67,189.26 274.79,191.49 274.91,185.94 275.03,190.94 275.16,187.95 275.28,186.07 275.4,187.71 275.52,188.35 275.64,186.92 275.76,186.25 275.89,186.74 276.01,190.73 276.13,186.19 276.25,188.23 276.37,187.64 276.49,187.82 276.62,188.42 276.74,185.48 276.86,188.58 276.98,188.8 277.1,189.29 277.22,187.88 277.35,189.83 277.47,190.7 277.59,188.41 277.71,190.08 277.83,190.36 277.95,186.98 278.08,187.72 278.2,187.3 278.32,189.7 278.44,189.78 278.56,187.39 278.68,184.93 278.81,188.94 278.93,186.04 279.05,190.61 279.17,190.08 279.29,189.34 279.41,190.43 279.53,187.95 279.66,188.04 279.78,186.19 279.9,190.3 280.02,188.89 280.14,184.94 280.26,189.27 280.39,189.08 280.51,184.62 280.63,187.01 280.75,190.42 280.87,188.38 280.99,188.49 281.12,185.02 281.24,189.41 281.36,190.35 281.48,189.74 281.6,186.72 281.72,185.08 281.85,185.82 281.97,187.49 282.09,190.36 282.21,186.55 282.33,187.42 282.45,188.69 282.58,187.43 282.7,186.17 282.82,190.07 282.94,190.3 283.06,189.65 283.18,188.61 283.31,190.07 283.43,187.83 283.55,187 283.67,185.08 283.79,187.05 283.91,190.57 284.04,189.51 284.16,190.16 284.28,188.36 284.4,186.24 284.52,184.79 284.64,186.82 284.76,187.51 284.89,191.03 285.01,189.39 285.13,185.66 285.25,189.78 285.37,191.63 285.49,189.63 285.62,188.87 285.74,185.63 285.86,186.48 285.98,187.32 286.1,185.76 286.22,186.34 286.35,191.36 286.47,187.59 286.59,187.25 286.71,191.42 286.83,190.25 286.95,185.94 287.08,187.29 287.2,185.51 287.32,186.53 287.44,191.01 287.56,189.04 287.68,189.62 287.81,190.43 287.93,187.52 288.05,190.68 288.17,188.13 288.29,187.78 288.41,190.86 288.54,190.21 288.66,185.96 288.78,185.87 288.9,186.47 289.02,189.9 289.14,187.78 289.26,184.72 289.39,187.96 289.51,186.61 289.63,187.2 289.75,185.5 289.87,188.54 289.99,184.94 290.12,187.86 290.24,185.07 290.36,186.19 290.48,184.96 290.6,188.22 290.72,187 290.85,184.99 290.97,187.46 291.09,187.9 291.21,190.04 291.33,186.21 291.45,191.47 291.58,186.33 291.7,187.95 291.82,186.37 291.94,185.59 292.06,190.46 292.18,187.87 292.31,187.04 292.43,190.43 292.55,186.45 292.67,190.52 292.79,185.62 292.91,188.87 293.04,188.48 293.16,190.92 293.28,185.72 293.4,185.8 293.52,190.9 293.64,191.24 293.77,191.14 293.89,185.61 294.01,188.78 294.13,187.85 294.25,187.11 294.37,190.63 294.49,185.61 294.62,189.56 294.74,191.13 294.86,190.03 294.98,191.25 295.1,187.37 295.22,187.93 295.35,189.33 295.47,189.15 295.59,189.4 295.71,189.81 295.83,189.22 295.95,186.76 296.08,187.43 296.2,188.42 296.32,190.5 296.44,191.14 296.56,187.35 296.68,191.34 296.81,191.84 296.93,189.38 297.05,186.3 297.17,191.79 297.29,186.88 297.41,187.25 297.54,189.66 297.66,188.75 297.78,187.27 297.9,191.75 298.02,187.34 298.14,187.28 298.27,186.19 298.39,187.35 298.51,189.62 298.63,187.32 298.75,188.99 298.87,188.74 298.99,191 299.12,191.24 299.24,187.85 299.36,192.28 299.48,192.17 299.6,189.14 299.72,190.57 299.85,186.11 299.97,189.01 300.09,189.43 300.21,189.56 300.33,191.36 300.45,191.43 300.58,186.59 300.7,191.73 300.82,187.22 300.94,188.73 301.06,192.16 301.18,190.27 301.31,187.01 301.43,185.94 301.55,186.78 301.67,187.83 301.79,188.01 301.91,188.61 302.04,189.12 302.16,186.94 302.28,187.65 302.4,189.52 302.52,189.59 302.64,188.05 302.77,187.55 302.89,190.69 303.01,187.51 303.13,191.4 303.25,185.59 303.37,188.83 303.49,190.24 303.62,188.61 303.74,188.58 303.86,189.82 303.98,189.13 304.1,189.99 304.22,189.4 304.35,191.31 304.47,189.03 304.59,187.47 304.71,188.67 304.83,186.57 304.95,191.66 305.08,189.05 305.2,189.52 305.32,186.18 305.44,191.03 305.56,186.18 305.68,190.98 305.81,190.27 305.93,189.29 306.05,189.73 306.17,191.2 306.29,190.18 306.41,190.43 306.54,191.44 306.66,188.95 306.78,186.71 306.9,190.82 307.02,186.09 307.14,188.81 307.27,188.88 307.39,185.93 307.51,188.29 307.63,186.65 307.75,189.51 307.87,188.72 308,190.08 308.12,188.76 308.24,189.1 308.36,188.85 308.48,186.07 308.6,188.06 308.72,189.74 308.85,188.58 308.97,190.73 309.09,185.11 309.21,190.96 309.33,191.51 309.45,191.34 309.58,187.5 309.7,186.42 309.82,189.39 309.94,191.71 310.06,187.92 310.18,186.08 310.31,191.04 310.43,186.33 310.55,186.74 310.67,189.39 310.79,191.96 310.91,187.42 311.04,188.78 311.16,187.4 311.28,191.52 311.4,185.64 311.52,191.38 311.64,192.06 311.77,186.24 311.89,186.41 312.01,189.21 312.13,190.55 312.25,189.95 312.37,188.24 312.5,190.78 312.62,192.09 312.74,188.84 312.86,190.57 312.98,187.69 313.1,189.24 313.22,185.86 313.35,191.6 313.47,189.2 313.59,190.21 313.71,191.89 313.83,186.17 313.95,185.83 314.08,191.51 314.2,186.25 314.32,189.52 314.44,189.87 314.56,189.01 314.68,192.31 314.81,190.12 314.93,188.95 315.05,191.92 315.17,191.24 315.29,186.71 315.41,186.21 315.54,189.75 315.66,186.26 315.78,189.92 315.9,189.16 316.02,187.77 316.14,187.87 316.27,189.45 316.39,188.33 316.51,189 316.63,188.34 316.75,191.32 316.87,187.06 317,190.22 317.12,188.48 317.24,191.81 317.36,189.13 317.48,190.19 317.6,191.9 317.72,189.63 317.85,186.45 317.97,187.68 318.09,190.24 318.21,185.98 318.33,185.98 318.45,187.26 318.58,191.39 318.7,189.68 318.82,188.17 318.94,188.14 319.06,188 319.18,187.16 319.31,188.25 319.43,188.76 319.55,189.26 319.67,187.85 319.79,188.02 319.91,191.72 320.04,191.36 320.16,185.51 320.28,186.33 320.4,185.5 320.52,189.7 320.64,188.73 320.77,189.13 320.89,191.91 321.01,188.61 321.13,191.96 321.25,187.33 321.37,191.25 321.5,189.97 321.62,192.05 321.74,186 321.86,187.9 321.98,188.91 322.1,188.75 322.23,190.53 322.35,189.66 322.47,187.86 322.59,187.43 322.71,188.65 322.83,189.65 322.95,187.28 323.08,190.38 323.2,189.93 323.32,191.2 323.44,186.71 323.56,186.27 323.68,187.13 323.81,188.49 323.93,190.87 324.05,186.95 324.17,188.48 324.29,186.74 324.41,187.92 324.54,188.3 324.66,186.94 324.78,186.95 324.9,186.09 325.02,189.35 325.14,187.89 325.27,187.67 325.39,190.82 325.51,189.17 325.63,188.01 325.75,188.32 325.87,189.72 326,189.93 326.12,186.4 326.24,189.65 326.36,186.77 326.48,191.09 326.6,191.64 326.73,189.47 326.85,188.6 326.97,191.96 327.09,190.52 327.21,188.12 327.33,186.93 327.45,188.73 327.58,188.32 327.7,188.99 327.82,187.41 327.94,186.44 328.06,188.92 328.18,191.29 328.31,185.58 328.43,186.42 328.55,190.08 328.67,188.14 328.79,187.96 328.91,188.25 329.04,191.12 329.16,188.63 329.28,191.74 329.4,191.58 329.52,191.46 329.64,190.37 329.77,191.5 329.89,187.75 330.01,190.02 330.13,186.04 330.25,185.46 330.37,188.38 330.5,189.61 330.62,187.47 330.74,190.43 330.86,189.16 330.98,186.84 331.1,189.8 331.23,189.77 331.35,186.61 331.47,191.36 331.59,186.69 331.71,188.55 331.83,187.52 331.96,191.78 332.08,189.33 332.2,191.54 332.32,188.82 332.44,186.05 332.56,186.77 332.68,188.39 332.81,191.29 332.93,189.83 333.05,185.95 333.17,188.26 333.29,189.72 333.41,189.44 333.54,186.09 333.66,188.72 333.78,190.64 333.9,190.13 334.02,190.45 334.14,187.16 334.27,188.26 334.39,186.18 334.51,188.72 334.63,186.58 334.75,186.72 334.87,190.24 335,192.13 335.12,186.76 335.24,192.19 335.36,187.84 335.48,191.94 335.6,187.33 335.73,187.5 335.85,187.83 335.97,189.63 336.09,190.97 336.21,191.25 336.33,191 336.46,187.77 336.58,191.41 336.7,186.53 336.82,188.9 336.94,187.41 337.06,186.55 337.18,187.89 337.31,189.31 337.43,190.91 337.55,191.68 337.67,188.22 337.79,190.5 337.91,187.7 338.04,188.46 338.16,188.7 338.28,187.59 338.4,188.18 338.52,191.23 338.64,187.23 338.77,187.32 338.89,190.05 339.01,185.29 339.13,187.75 339.25,190.95 339.37,191.24 339.5,190.08 339.62,189.56 339.74,188 339.86,186.9 339.98,188.35 340.1,190.69 340.23,187.65 340.35,186.73 340.47,188.13 340.59,190.2 340.71,187.35 340.83,190.95 340.96,186.15 341.08,186.32 341.2,189.55 341.32,187.32 341.44,187.01 341.56,190.52 341.68,187.43 341.81,188.46 341.93,191.18 342.05,190.42 342.17,188.43 342.29,190.24 342.41,187.64 342.54,185.91 342.66,186.96 342.78,187.12 342.9,187.18 343.02,187.5 343.14,190.56 343.27,187.77 343.39,187.41 343.51,186.12 343.63,185.55 343.75,189.27 343.87,185.63 344,188.85 344.12,190.83 344.24,185.51 344.36,191.64 344.48,188.55 344.6,187.69 344.73,187.34 344.85,185.84 344.97,188.01 345.09,187.11 345.21,188.01 345.33,185.94 345.46,189.34 345.58,190.23 345.7,190.32 345.82,188.75 345.94,191.01 346.06,191.25 346.19,188.57 346.31,187.16 346.43,191.23 346.55,192.36 346.67,190.78 346.79,192.09 346.91,188.65 347.04,191.39 347.16,189.39 347.28,187.24 347.4,190.63 347.52,186.76 347.64,190.09 347.77,191.16 347.89,189.39 348.01,186.13 348.13,186.11 348.25,188.28 348.37,188.13 348.5,189.77 348.62,189.1 348.74,190.26 348.86,186.45 348.98,189.08 349.1,188.45 349.23,191.11 349.35,186.47 349.47,189.99 349.59,185.86 349.71,187.84 349.83,190.75 349.96,186.93 350.08,191.46 350.2,189.61 350.32,185.68 350.44,188.33 350.56,189.34 350.69,188.42 350.81,190.87 350.93,188.87 351.05,186.94 351.17,190.46 351.29,188.35 351.41,187.59 351.54,185.98 351.66,189.97 351.78,188.76 351.9,188.46 352.02,187.17 352.14,186.21 352.27,188.86 352.39,188.31 352.51,191.24 352.63,185.15 352.75,185.56 352.87,190.58 353,191.17 353.12,190.98 353.24,185.63 353.36,185.93 353.48,188.14 353.6,189.63 353.73,186.87 353.85,191.27 353.97,189.02 354.09,185.22 354.21,190.94 354.33,188.85 354.46,191.42 354.58,185.73 354.7,188.12 354.82,186.12 354.94,188.3 355.06,190.82 355.19,190.38 355.31,189.38 355.43,191.17 355.55,189.69 355.67,191.03 355.79,186.93 355.91,186.26 356.04,187.09 356.16,190.61 356.28,185.8 356.4,187.46 356.52,189.08 356.64,189.68 356.77,187.71 356.89,189 357.01,186.16 357.13,191.04 357.25,190.4 357.37,186.38 357.5,189.61 357.62,190.4 357.74,186.19 357.86,186.99 357.98,189 358.1,189.64 358.23,188.86 358.35,185.73 358.47,190.43 358.59,189.53 358.71,188.93 358.83,190.65 358.96,186.75 359.08,192.16 359.2,188.58 359.32,186.4 359.44,191.9 359.56,189.89 359.69,186.78 359.81,190.17 359.93,188.11 360.05,188.96 360.17,189.65 360.29,188.66 360.42,188.12 360.54,185.64 360.66,189.52 360.78,187.99 360.9,188.33 361.02,191 361.14,190.44 361.27,192.34 361.39,191.97 361.51,189.44 361.63,186.58 361.75,192.15 361.87,192.33 362,189.26 362.12,187.55 362.24,188.19 362.36,191.09 362.48,187.49 362.6,189.46 362.73,186.29 362.85,190.95 362.97,187.18 363.09,187.42 363.21,191.43 363.33,186.09 363.46,187.1 363.58,189.04 363.7,186.08 363.82,190.43 363.94,189.86 364.06,189.96 364.19,188.36 364.31,188.95 364.43,186.47 364.55,185.65 364.67,191.99 364.79,187.32 364.92,186.88 365.04,187.43 365.16,186.46 365.28,186.94 365.4,187.96 365.52,190.74 365.64,188.45 365.77,189.86 365.89,186.93 366.01,187.37 366.13,185.82 366.25,186.33 366.37,188.05 366.5,191.37 366.62,185.93 366.74,186.28 366.86,186.72 366.98,191.25 367.1,189.21 367.23,186.8 367.35,191.01 367.47,185.41 367.59,188.64 367.71,188.02 367.83,191.3 367.96,186.99 368.08,191.24 368.2,185.97 368.32,190.53 368.44,186.86 368.56,187.03 368.69,186.02 368.81,188.34 368.93,191.14 369.05,190.68 369.17,191.12 369.29,189.35 369.42,188.38 369.54,188.74 369.66,188.67 369.78,187.18 369.9,186.24 370.02,186.14 370.15,188.16 370.27,189.75 370.39,189.96 370.51,190.27 370.63,187.68 370.75,185.95 370.87,190.83 371,190.43 371.12,187.51 371.24,188.05 371.36,191.23 371.48,190.6 371.6,185.98 371.73,188.71 371.85,188.61 371.97,191.07 372.09,189.25 372.21,188.67 372.33,189.15 372.46,187.72 372.58,190.81 372.7,187.49 372.82,186.45 372.94,189.58 373.06,190.07 373.19,187.82 373.31,188.13 373.43,189.45 373.55,185.56 373.67,187.69 373.79,191.55 373.92,187.98 374.04,186.12 374.16,187.25 374.28,185.45 374.4,186.76 374.52,185.52 374.65,188.15 374.77,187.89 374.89,189.45 375.01,186.58 375.13,186.12 375.25,189.89 375.37,191.35 375.5,187.61 375.62,185.81 375.74,188.86 375.86,189.89 375.98,191.64 376.1,190.11 376.23,188.19 376.35,190.01 376.47,189.15 376.59,189.76 376.71,191.5 376.83,189.22 376.96,186.29 377.08,187.9 377.2,190.46 377.32,187.04 377.44,191.17 377.56,188.52 377.69,185.59 377.81,187.78 377.93,187.05 378.05,187.56 378.17,189.45 378.29,185.38 378.42,188.2 378.54,187.7 378.66,189.34 378.78,187 378.9,190.36 379.02,189.36 379.15,187.48 379.27,186.64 379.39,186.72 379.51,190.39 379.63,188.32 379.75,187.18 379.87,188.51 380,189.32 380.12,187.5 380.24,187.36 380.36,190.14 380.48,185.56 380.6,190.26 380.73,189.37 380.85,186.85 380.97,190.92 381.09,185.7 381.21,185.83 381.33,188.75 381.46,185.96 381.58,187.93 381.7,189.35 381.82,185.28 381.94,188.48 382.06,188.43 382.19,187.62 382.31,187.18 382.43,186.16 382.55,191.07 382.67,186.67 382.79,186.15 382.92,186.1 383.04,189.09 383.16,191.45 383.28,190.3 383.4,190.77 383.52,187.08 383.65,189.05 383.77,190.71 383.89,189.31 384.01,190.16 384.13,186.61 384.25,185.43 384.38,185.87 384.5,190.07 384.62,185.69 384.74,190.43 384.86,187.48 384.98,190.19 385.1,189.99 385.23,187.64 385.35,189 385.47,191.92 385.59,189.31 385.71,191.04 385.83,189.27 385.96,192.12 386.08,186.47 386.2,187.11 386.32,187.38 386.44,191.43 386.56,191.32 386.69,189.07 386.81,191.91 386.93,186.69 387.05,189.05 387.17,190.34 387.29,190.86 387.42,187.33 387.54,190.5 387.66,186.67 387.78,190.54 387.9,190.12 388.02,185.94 388.15,187.22 388.27,186.59 388.39,186.98 388.51,189.24 388.63,188 388.75,190.03 388.88,191.55 389,188.56 389.12,187.12 389.24,190.36 389.36,190.91 389.48,187.15 389.6,187.85 389.73,186.48 389.85,187.76 389.97,186.04 390.09,186.15 390.21,187.13 390.33,189.38 390.46,186.79 390.58,191.51 390.7,188.98 390.82,187.41 390.94,191.57 391.06,191.69 391.19,188.72 391.31,185.5 391.43,188.82 391.55,188.54 391.67,189.89 391.79,185.77 391.92,187.47 392.04,188.46 392.16,187.93 392.28,187.74 392.4,189.6 392.52,190.3 392.65,189.56 392.77,190.78 392.89,186.08 393.01,186.42 393.13,187.89 393.25,187.96 393.38,186.84 393.5,187.71 393.62,186.73 393.74,190.32 393.86,185.94 393.98,190.37 394.1,189.07 394.23,190.11 394.35,185.91 394.47,187.28 394.59,185.82 394.71,187 394.83,186.52 394.96,187.88 395.08,190.08 395.2,186.48 395.32,185.61 395.44,188.79 395.56,184.94 395.69,186.02 395.81,187.47 395.93,189.87 396.05,185.86 396.17,191.22 396.29,190.75 396.42,187.11 396.54,186.97 396.66,187.82 396.78,189 396.9,186.71 397.02,186.43 397.15,190.93 397.27,191.57 397.39,188.17 397.51,191.35 397.63,187.71 397.75,190.6 397.88,190.74 398,186.59 398.12,191.11 398.24,190.7 398.36,187.27 398.48,186.24 398.61,188.07 398.73,187.29 398.85,187.98 398.97,189.44 399.09,186.04 399.21,191.43 399.33,190.19 399.46,189.28 399.58,187.34 399.7,188.44 399.82,188.44 399.94,186.83 400.06,186.76 400.19,191.26 400.31,185.95 400.43,189.36 400.55,188.46 400.67,190.38 400.79,185.48 400.92,190.79 401.04,187.57 401.16,189.62 401.28,187.79 401.4,186.94 401.52,190.97 401.65,190.22 401.77,189.12 401.89,185.95 402.01,188.06 402.13,186.15 402.25,188.2 402.38,189.33 402.5,188.1 402.62,185.09 402.74,187.85 402.86,187.47 402.98,187.39 403.11,191.32 403.23,190.25 403.35,189.77 403.47,185.57 403.59,189.76 403.71,186.98 403.83,186.58 403.96,190.77 404.08,185.86 404.2,185.23 404.32,188.7 404.44,190.56 404.56,187.02 404.69,188.14 404.81,186.32 404.93,186.12 405.05,188.55 405.17,186.32 405.29,185.63 405.42,188.73 405.54,185.31 405.66,189.69 405.78,184.94 405.9,190.77 406.02,187.89 406.15,186.13 406.27,186.16 406.39,187.88 406.51,185.36 406.63,191.44 406.75,188.9 406.88,188.28 407,189.86 407.12,190.49 407.24,190.24 407.36,189.73 407.48,190.03 407.61,189.78 407.73,187.73 407.85,185.52 407.97,188.85 408.09,186.03 408.21,190.22 408.34,190.2 408.46,191.23 408.58,185.31 408.7,189.22 408.82,189 408.94,189.99 409.06,187.54 409.19,191.33 409.31,189.47 409.43,189.32 409.55,188.76 409.67,188.24 409.79,188.18 409.92,187.61 410.04,186.63 410.16,191.85 410.28,188.58 410.4,188.92 410.52,191.01 410.65,188.46 410.77,188.85 410.89,187.58 411.01,191.95 411.13,187.93 411.25,192.12 411.38,191.29 411.5,190.71 411.62,188.4 411.74,191.58 411.86,190.72 411.98,191.04 412.11,191.2 412.23,188.51 412.35,191.94 412.47,187.17 412.59,188.96 412.71,188.39 412.84,189.44 412.96,186.66 413.08,185.46 413.2,185.64 413.32,187.94 413.44,189.47 413.56,187.89 413.69,187.82 413.81,186.3 413.93,188 414.05,187.88 414.17,185.43 414.29,186.66 414.42,187.21 414.54,188.51 414.66,191.13 414.78,186.92 414.9,188.36 415.02,187.98 415.15,191.06 415.27,190.86 415.39,186.05 415.51,191.2 415.63,189.79 415.75,185.78 415.88,186.9 416,185.45 416.12,185.37 416.24,187.4 416.36,186.89 416.48,185.32 416.61,190.89 416.73,187.82 416.85,185.19 416.97,189.32 417.09,186.47 417.21,190.05 417.34,185.62 417.46,188.71 417.58,188.18 417.7,188.4 417.82,191.44 417.94,188.16 418.06,185.14 418.19,185.87 418.31,186.11 418.43,188.92 418.55,189.8 418.67,190.84 418.79,190.17 418.92,187.7 419.04,191.56 419.16,189.99 419.28,191.46 419.4,189.77 419.52,190.08 419.65,190.57 419.77,185.82 419.89,185.97 420.01,189.52 420.13,188.02 420.25,191.24 420.38,187.43 420.5,187.48 420.62,192.06 420.74,187.33 420.86,191.22 420.98,191.45 421.11,188.75 421.23,191.42 421.35,186.27 421.47,192.32 421.59,192.5 421.71,191.85 421.84,187.87 421.96,190.99 422.08,191.88 422.2,192.31 422.32,186.42 422.44,187.77 422.57,191.51 422.69,192.06 422.81,186.74 422.93,189.17 423.05,189.74 423.17,186.05 423.29,189.06 423.42,186.81 423.54,192.21 423.66,188.73 423.78,188.1 423.9,187.8 424.02,191 424.15,191.91 424.27,189.63 424.39,186.68 424.51,189.36 424.63,190.72 424.75,186.61 424.88,187.43 425,186.84 425.12,191.8 425.24,189.17 425.36,190.3 425.48,191.54 425.61,187.49 425.73,191.93 425.85,192.04 425.97,187.06 426.09,189.73 426.21,191.55 426.34,191.45 426.46,188.88 426.58,190.92 426.7,188.76 426.82,190.25 426.94,191.69 427.07,189.76 427.19,187.49 427.31,190.95 427.43,185.61 427.55,190.9 427.67,187.17 427.79,185.97 427.92,187.37 428.04,189.85 428.16,186.28 428.28,189.32 428.4,188.07 428.52,186.44 428.65,187.09 428.77,187.49 428.89,188.25 429.01,186.84 429.13,189.03 429.25,190.84 429.38,186.24 429.5,188.96 429.62,189.51 429.74,186.17 429.86,186.23 429.98,190.53 430.11,191.09 430.23,190.69 430.35,185.6 430.47,189.01 430.59,188.13 430.71,186.02 430.84,190.08 430.96,191.09 431.08,188.25 431.2,188.77 431.32,191.87 431.44,189.05 431.57,190.45 431.69,189.39 431.81,186.89 431.93,189.49 432.05,188.73 432.17,187.75 432.29,189.62 432.42,187.92 432.54,190.07 432.66,189.58 432.78,186.56 432.9,186.57 433.02,187.86 433.15,188.94 433.27,189.18 433.39,190.9 433.51,187.15 433.63,191.69 433.75,191.04 433.88,191.67 434,190.91 434.12,190.88 434.24,188.59 434.36,188.9 434.48,190.63 434.61,191.9 434.73,190.66 434.85,187.33 434.97,188.49 435.09,190.45 435.21,188.99 435.34,190.46 435.46,189.7 435.58,190.69 435.7,192.05 435.82,189.54 435.94,187.91 436.07,189.09 436.19,188.7 436.31,191.14 436.43,186.25 436.55,188.29 436.67,188.41 436.8,190.49 436.92,188.36 437.04,187.62 437.16,187.56 437.28,190.91 437.4,187.36 437.52,189.33 437.65,191.33 437.77,186.93 437.89,188.7 438.01,190.41 438.13,190.64 438.25,187 438.38,186.21 438.5,188 438.62,188.87 438.74,185.79 438.86,189.03 438.98,186.41 439.11,189.27 439.23,188.49 439.35,187.57 439.47,190.15 439.59,190.69 439.71,188.67 439.84,190.63 439.96,188.31 440.08,185.44 440.2,186.66 440.32,190.04 440.44,190.27 440.57,187.29 440.69,185.44 440.81,187.49 440.93,186.44 441.05,185.8 441.17,190.93 441.3,185.64 441.42,187.74 441.54,188.26 441.66,187.38 441.78,188.58 441.9,186.77 442.02,189.97 442.15,190.46 442.27,190.37 442.39,186.97 442.51,185.98 442.63,188.72 442.75,185.56 442.88,186.08 443,187.89 443.12,186.77 443.24,187.96 443.36,187.29 443.48,190.68 443.61,187.76 443.73,189.44 443.85,188.07 443.97,188.01 444.09,187.6 444.21,186.67 444.34,186 444.46,190.41 444.58,186.87 444.7,186.22 444.82,185.87 444.94,189.29 445.07,191.08 445.19,187.23 445.31,186.39 445.43,185.44 445.55,189.16 445.67,189.31 445.8,188.95 445.92,191.32 446.04,188.38 446.16,190.12 446.28,185.81 446.4,190.91 446.53,187.65 446.65,186.13 446.77,190.36 446.89,189.21 447.01,191.06 447.13,186.52 447.25,190.34 447.38,190.56 447.5,190.59 447.62,189.2 447.74,190.39 447.86,186.06 447.98,186.48 448.11,185.45 448.23,186.81 448.35,190.1 448.47,190.65 448.59,188.57 448.71,189.18 448.84,186.94 448.96,187.17 449.08,189.79 449.2,185.53 449.32,185.62 449.44,186.09 449.57,189.35 449.69,187.86 449.81,188.86 449.93,189.61 450.05,190.9 450.17,187.6 450.3,186.21 450.42,186.54 450.54,191.52 450.66,190.29 450.78,188.54 450.9,186.97 451.03,190.66 451.15,186.57 451.27,186 451.39,189.19 451.51,186.81 451.63,191.37 451.75,187.24 451.88,189.89 452,188.58 452.12,189.29 452.24,189.4 452.36,189.42 452.48,190.56 452.61,189.08 452.73,187 452.85,191.05 452.97,188.11 453.09,191.39 453.21,190.91 453.34,186.26 453.46,191.58 453.58,187.16 453.7,186.93 453.82,187.75 453.94,187.42 454.07,187.34 454.19,188.35 454.31,187.61 454.43,187.03 454.55,187.83 454.67,186.9 454.8,191.57 454.92,187.35 455.04,191.21 455.16,188.77 455.28,187.33 455.4,187.31 455.53,190.34 455.65,191.26 455.77,188.78 455.89,189.22 456.01,191.12 456.13,186.65 456.25,189.54 456.38,186.47 456.5,187.32 456.62,190.71 456.74,189.3 456.86,188.02 456.98,187.82 457.11,185.62 457.23,187.49 457.35,185.64 457.47,187.91 457.59,187.69 457.71,190.7 457.84,187.4 457.96,189.11 458.08,189.99 458.2,186.85 458.32,185.83 458.44,190.11 458.57,187.3 458.69,190.82 458.81,187.93 458.93,189.27 459.05,185.71 459.17,191.18 459.3,186.27 459.42,189.84 459.54,187.66 459.66,187.88 459.78,186.57 459.9,187.94 460.03,185.66 460.15,190.68 460.27,187.26 460.39,189.14 460.51,190.93 460.63,189.45 460.76,189.62 460.88,188.06 461,189.67 461.12,190.61 461.24,187.91 461.36,191.45 461.48,188.73 461.61,190.78 461.73,190.07 461.85,187.74 461.97,190.34 462.09,188.87 462.21,191.15 462.34,187.82 462.46,191.71 462.58,187.58 462.7,187.48 462.82,187.68 462.94,188.29 463.07,187.77 463.19,189.76 463.31,190.01 463.43,187.88 463.55,188.5 463.67,186.77 463.8,190.81 463.92,187.7 464.04,188.52 464.16,187.51 464.28,188.04 464.4,187.92 464.53,191.1 464.65,188.61 464.77,189.14 464.89,190.4 465.01,187.13 465.13,191.26 465.26,191.34 465.38,188.5 465.5,188.5 465.62,187.09 465.74,190.41 465.86,189.91 465.98,186.48 466.11,191.54 466.23,189.69 466.35,191.52 466.47,186.75 466.59,190.45 466.71,186.64 466.84,186.34 466.96,186.49 467.08,189.09 467.2,187.74 467.32,189.05 467.44,191.61 467.57,190.02 467.69,188.37 467.81,189.87 467.93,189.17 468.05,187.95 468.17,191.5 468.3,189.75 468.42,191.78 468.54,188.68 468.66,191.21 468.78,189.29 468.9,189.87 469.03,191.55 469.15,186.6 469.27,190.42 469.39,187.38 469.51,191.01 469.63,190.88 469.76,191.17 469.88,189.76 470,186.02 470.12,187.67 470.24,186.33 470.36,188.56 470.48,190.31 470.61,187.18 470.73,190.47 470.85,189.33 470.97,187.32 471.09,189.94 471.21,186.29 471.34,186.49 471.46,186.4 471.58,191.66 471.7,188.29 471.82,191.74 471.94,190.06 472.07,187.3 472.19,187.34 472.31,186.75 472.43,188.78 472.55,190.16 472.67,190.85 472.8,189.86 472.92,188.73 473.04,191.18 473.16,187.77 473.28,188.57 473.4,188.5 473.53,191.96 473.65,187.99 473.77,190.06 473.89,189.9 474.01,186.71 474.13,186.55 474.26,187.17 474.38,191.87 474.5,189.64 474.62,186.86 474.74,189.74 474.86,189.27 474.99,190.19 475.11,189.89 475.23,189.86 475.35,186.54 475.47,191.82 475.59,189.22 475.71,187.51 475.84,187.36 475.96,189 476.08,191.07 476.2,189.08 476.32,190.99 476.44,190.66 476.57,188.18 476.69,188.7 476.81,189.51 476.93,190.33 477.05,187.56 477.17,191.92 477.3,191.02 477.42,190.51 477.54,189.83 477.66,186.96 477.78,191.69 477.9,189.92 478.03,187.23 478.15,189.4 478.27,186.53 478.39,186.74 478.51,189.32 478.63,188.72 478.76,187.79 478.88,186.39 479,190.78 479.12,190.77 479.24,186.4 479.36,188.84 479.49,189.81 479.61,186.95 479.73,190.42 479.85,190.37 479.97,189.91 480.09,187.67 480.21,188.21 480.34,187.69 480.46,189.39 480.58,190.15 480.7,189.61 480.82,187.1 480.94,186.64 481.07,188.3 481.19,185.83 481.31,189.8 481.43,188.7 481.55,185.84 481.67,185.75 481.8,187.92 481.92,187.98 482.04,190.19 482.16,190.89 482.28,190.51 482.4,188.91 482.53,187.59 482.65,188.01 482.77,187.49 482.89,186.48 483.01,188.96 483.13,191.2 483.26,189.16 483.38,187.08 483.5,185.86 483.62,188.62 483.74,191.35 483.86,187.62 483.99,187.34 484.11,188.46 484.23,186.51 484.35,189.51 484.47,186.67 484.59,188.26 484.72,187.86 484.84,189.79 484.96,188.83 485.08,189.78 485.2,188.19 485.32,191.08 485.44,191 485.57,190.04 485.69,191.1 485.81,186.07 485.93,188.37 486.05,186.6 486.17,188.92 486.3,187.46 486.42,186.43 486.54,190.38 486.66,189.28 486.78,187.95 486.9,188.34 487.03,190.62 487.15,186.19 487.27,186.26 487.39,188.69 487.51,187.39 487.63,188.68 487.76,187.29 487.88,190.56 488,190.56 488.12,189.6 488.24,188.83 488.36,185.89 488.49,187.02 488.61,190.44 488.73,188.22 488.85,187.71 488.97,191.21 489.09,189.46 489.22,186.26 489.34,188.61 489.46,188.52 489.58,188.41 489.7,188.18 489.82,188.12 489.94,187.92 490.07,186.32 490.19,188.92 490.31,187.52 490.43,187.58 490.55,187.66 490.67,187.85 490.8,190.64 490.92,186.77 491.04,187.88 491.16,186.97 491.28,189.21 491.4,190.14 491.53,189.64 491.65,189.36 491.77,190.49 491.89,187.01 492.01,189.93 492.13,187.38 492.26,191.25 492.38,189.35 492.5,187.1 492.62,187.23 492.74,189.9 492.86,189.8 492.99,189 493.11,187.21 493.23,190.9 493.35,189.8 493.47,187.25 493.59,187.46 493.72,189.3 493.84,189.09 493.96,187.39 494.08,191.08 494.2,189.01 494.32,191.42 494.44,191.6 494.57,191.7 494.69,188.88 494.81,190.74 494.93,190.93 495.05,188.57 495.17,190.82 495.3,188.25 495.42,190.51 495.54,189.3 495.66,189.48 495.78,192.75 495.9,191.89 496.03,192.54 496.15,190.35 496.27,188.97 496.39,191.5 496.51,192.31 496.63,193 496.76,193.14 496.88,190.58 497,192.72 497.12,190.75 497.24,193.59 497.36,189.28 497.49,193.44 497.61,192.04 497.73,189.81 497.85,192.5 497.97,190.59 498.09,193.17 498.22,193.68 498.34,191.71 498.46,191.22 498.58,194 498.7,191.28 498.82,193.29 498.95,190.81 499.07,194.75 499.19,191.99 499.31,191.89 499.43,194.86 499.55,192.38 499.67,194.69 499.8,193.29 499.92,191.89 500.04,192.11 500.16,193.88 500.28,191.83 500.4,194.01 500.53,195.85 500.65,193.4 500.77,193.5 500.89,192.9 501.01,195.33 501.13,193.14 501.26,192.45 501.38,195.83 501.5,195.64 501.62,194.92 501.74,192.8 501.86,196.49 501.99,195.2 502.11,195.24 502.23,195.47 502.35,196.72 502.47,194.11 502.59,197.13 502.72,196.48 502.84,193.98 502.96,193.97 503.08,197.65 503.2,195.32 503.32,194.54 503.45,195.95 503.57,196.16 503.69,195.92 503.81,198.21 503.93,194.96 504.05,196.83 504.17,198.35 504.3,195.98 504.42,195.98 504.54,198.67 504.66,197.74 504.78,197.7 504.9,196.69 505.03,197.95 505.15,197.52 505.27,198.2 505.39,198.35 505.51,197.7 505.63,196.62 505.76,198.22 505.88,197.74 506,197.67 506.12,197.5 506.24,199.72 506.36,199.78 506.49,198.35 506.61,197.04 506.73,199.39 506.85,197.33 506.97,200.53 507.09,198.43 507.22,198.81 507.34,199.61 507.46,200.85 507.58,200.7 507.7,199.79 507.82,198.03 507.95,198.26 508.07,197.69 508.19,200.79 508.31,197.56 508.43,201.13 508.55,198.75 508.67,199.4 508.8,199.15 508.92,200.11 509.04,200.16 509.16,200.61 509.28,201.09 509.4,199.76 509.53,199.13 509.65,199.24 509.77,200.81 509.89,200.31 510.01,200.71 510.13,198.25 510.26,199.89 510.38,200.32 510.5,200.05 510.62,198.63 510.74,201.06 510.86,198.67 510.99,199.36 511.11,200.35 511.23,198.44 511.35,199.29 511.47,201.12 511.59,198.88 511.72,198.31 511.84,201.39 511.96,198.74 512.08,201.07 512.2,199.95 512.32,198.72 512.45,200.95 512.57,201.14 512.69,198.42 512.81,201.36 512.93,200.75 513.05,200.44 513.18,198.65 513.3,200.28 513.42,200.09 513.54,200.55 513.66,199.96 513.78,200.5 513.9,200.44 514.03,199.95 514.15,199.69 514.27,200.46 514.39,200.24 514.51,198.57 514.63,198.81 514.76,199.29 514.88,199.6 515,198.81 515.12,200.04 515.24,199.52 515.36,199 515.49,200.96 515.61,201.45 515.73,200.2 515.85,201.71 515.97,198.66 516.09,199.38 516.22,200.81 516.34,200.88 516.46,201.18 516.58,198.31 516.7,197.95 516.82,199.87 516.95,199.64 517.07,199.05 517.19,199.87 517.31,197.99 517.43,200.81 517.55,199.98 517.68,201.32 517.8,200.77 517.92,199.84 518.04,198.77 518.16,201.62 518.28,198.14 518.4,198.07 518.53,200.32 518.65,198.38 518.77,201.01 518.89,198.55 519.01,199.95 519.13,201.54 519.26,201.51 519.38,198.19 519.5,198.56 519.62,199 519.74,199.84 519.86,201.18 519.99,200.2 520.11,198.92 520.23,198.05 520.35,201.52 520.47,200.14 520.59,198.36 520.72,200.95 520.84,199.17 520.96,198.82 521.08,199.11 521.2,198.88 521.32,201.08 521.45,200.88 521.57,201.36 521.69,200.46 521.81,199.31 521.93,200.41 522.05,198.75 522.18,200.39 522.3,200.71 522.42,197.79 522.54,199.72 522.66,199.99 522.78,198.27 522.91,201.02 523.03,198.9 523.15,197.88 523.27,201.09 523.39,200.07 523.51,200.84 523.63,199.02 523.76,198.53 523.88,198.62 524,199.77 524.12,200.87 524.24,201.22 524.36,199.66 524.49,197.88 524.61,200.94 524.73,200.25 524.85,198.61 524.97,199.01 525.09,197.86 525.22,200.71 525.34,200.88 525.46,198.11 525.58,198.11 525.7,199.92 525.82,199.83 525.95,199.48 526.07,198.99 526.19,201.16 526.31,197.89 526.43,200.73 526.55,201.06 526.68,200.15 526.8,201.07 526.92,197.99 527.04,199.35 527.16,200.81 527.28,200.8 527.41,198.07 527.53,200.23 527.65,197.71 527.77,200.13 527.89,199.02 528.01,198.37 528.13,197.96 528.26,197.48 528.38,200.16 528.5,198.62 528.62,198.23 528.74,199.42 528.86,198.4 528.99,198.17 529.11,197.11 529.23,199.11 529.35,198.95 529.47,200.18 529.59,197.77 529.72,200.65 529.84,200.34 529.96,198.34 530.08,197.68 530.2,198.25 530.32,199.63 530.45,200.4 530.57,198.41 530.69,198.57 530.81,199.63 530.93,199.15 531.05,200.17 531.18,198.46 531.3,200.48 531.42,198.74 531.54,199.54 531.66,200.27 531.78,197.39 531.91,197.44 532.03,199.58 532.15,197.54 532.27,197.83 532.39,197.87 532.51,200.73 532.63,198.46 532.76,200.25 532.88,200.52 533,197.75 533.12,199.95 533.24,198.81 533.36,198.1 533.49,198.52 533.61,199.33 533.73,199.37 533.85,199.03 533.97,198.6 534.09,197.31 534.22,200.42 534.34,198.54 534.46,197.47 534.58,200.33 534.7,197.35 534.82,200.2 534.95,197.41 535.07,200.02 535.19,199.58 535.31,200.76 535.43,198.75 535.55,200.09 535.68,199.37 535.8,199.86 535.92,198.69 536.04,199.69 536.16,199.25 536.28,198.15 536.41,198.63 536.53,198.88 536.65,197.17 536.77,198.23 536.89,198.85 537.01,198.48 537.14,200.76 537.26,199.99 537.38,199.25 537.5,198.1 537.62,199.74 537.74,197.77 537.86,197.25 537.99,200.82 538.11,199.21 538.23,200.62 538.35,197.28 538.47,200.7 538.59,197.18 538.72,200.84 538.84,200.84 538.96,199.45 539.08,199.49 539.2,198.69 539.32,200.67 539.45,199.39 539.57,197.82 539.69,199.49 539.81,197.72 539.93,199.52 540.05,199.49 540.18,197.73 540.3,199.64 540.42,200.31 540.54,197.67 540.66,197.54 540.78,198.51 540.91,200.08 541.03,197.71 541.15,200.92 541.27,200.05 541.39,198.76 541.51,199.3 541.64,197.55 541.76,200.96 541.88,198.09 542,199.72" fill="none" stroke="#0a24f8" stroke-width="2.2" stroke-linejoin="round" />
<line x1="32.0" y1="199" x2="542.2" y2="199" stroke="#1e9a1e" stroke-width="2"/>
</g>
<rect x="32.0" y="17.9" width="510.2" height="51.6" fill="none" stroke="#000" stroke-width="2"/>
<rect x="32.0" y="92.0" width="510.2" height="51.8" fill="none" stroke="#000" stroke-width="2"/>
<rect x="32.0" y="164.9" width="510.2" height="52.1" fill="none" stroke="#000" stroke-width="2"/>
<g font-family="'Liberation Serif', 'Times New Roman', serif" fill="#000" stroke="#000" stroke-width="0.26">
<text x="26.8" y="24.3" font-size="11" text-anchor="end" stroke-width="0.2">1000</text>
<text x="26.8" y="47.3" font-size="11" text-anchor="end" stroke-width="0.2">0</text>
<text x="26.8" y="68.3" font-size="11" text-anchor="end" stroke-width="0.2">-1000</text>
<text x="26.8" y="96.8" font-size="11" text-anchor="end" stroke-width="0.2">4000</text>
<text x="26.8" y="112.3" font-size="11" text-anchor="end" stroke-width="0.2">2000</text>
<text x="26.8" y="130.3" font-size="11" text-anchor="end" stroke-width="0.2">0</text>
<text x="26.8" y="142.4" font-size="11" text-anchor="end" stroke-width="0.2">-2000</text>
<text x="26.8" y="171.9" font-size="11" text-anchor="end" stroke-width="0.2">2000</text>
<text x="26.8" y="185.5" font-size="11" text-anchor="end" stroke-width="0.2">1000</text>
<text x="26.8" y="202.6" font-size="11" text-anchor="end" stroke-width="0.2">0</text>
<text x="26.8" y="216.1" font-size="11" text-anchor="end" stroke-width="0.2">-1000</text>
<text x="33" y="228.8" font-size="12" text-anchor="middle" stroke-width="0.08">0</text>
<text x="83.27" y="228.8" font-size="12" text-anchor="middle" stroke-width="0.08">0.2</text>
<text x="134.34" y="228.8" font-size="12" text-anchor="middle" stroke-width="0.08">0.4</text>
<text x="185.41" y="228.8" font-size="12" text-anchor="middle" stroke-width="0.08">0.6</text>
<text x="236.48" y="228.8" font-size="12" text-anchor="middle" stroke-width="0.08">0.8</text>
<text x="285.55" y="228.8" font-size="12" text-anchor="middle" stroke-width="0.08">1</text>
<text x="338.12" y="228.8" font-size="12" text-anchor="middle" stroke-width="0.08">1.2</text>
<text x="389.69" y="228.8" font-size="12" text-anchor="middle" stroke-width="0.08">1.4</text>
<text x="441.96" y="228.8" font-size="12" text-anchor="middle" stroke-width="0.08">1.6</text>
<text x="489.83" y="228.8" font-size="12" text-anchor="middle" stroke-width="0.08">1.8</text>
<text x="540.9" y="228.8" font-size="12" text-anchor="middle" stroke-width="0.08">2</text>
<text x="285" y="12.4" font-size="13.3" text-anchor="middle" stroke-width="0.12">Ia (A)</text>
<text x="289.3" y="85" font-size="13.3" text-anchor="middle" stroke-width="0.12">Speed (r/min)</text>
<text x="286" y="159.3" font-size="13.3" text-anchor="middle" stroke-width="0.12">Te (Nm)</text>
<text x="536.3" y="246.4" font-size="13" text-anchor="end" stroke-width="0.12">t (s)</text>
</g>
</svg>
</body></html>
